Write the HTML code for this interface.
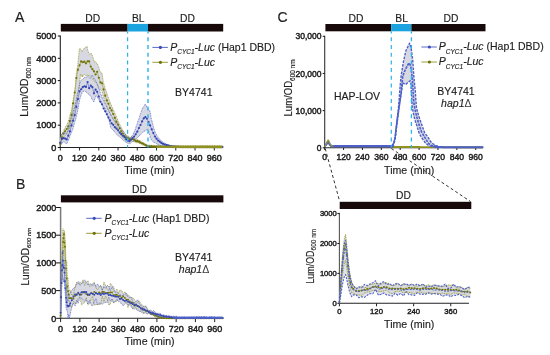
<!DOCTYPE html>
<html><head><meta charset="utf-8"><style>
html,body{margin:0;padding:0;background:#fff;}
body{width:550px;height:355px;overflow:hidden;}
svg{display:block;font-family:"Liberation Sans", sans-serif;filter:blur(0.35px);}
</style></head><body>
<svg width="550" height="355" viewBox="0 0 550 355">
<rect width="550" height="355" fill="#fff"/>
<text x="15.0" y="22" font-size="14" text-anchor="start" stroke="#1e1e1e" stroke-width="0.15" fill="#1e1e1e" >A</text>
<rect x="60.8" y="23.9" width="66.80" height="7.6" fill="#170909"/>
<rect x="127.6" y="23.9" width="20.40" height="7.6" fill="#1aa3de"/>
<rect x="148.0" y="23.9" width="75.20" height="7.6" fill="#170909"/>
<text x="92.8" y="21.6" font-size="10.3" text-anchor="middle" stroke="#1e1e1e" stroke-width="0.15" fill="#1e1e1e" >DD</text>
<text x="138.3" y="21.6" font-size="10.3" text-anchor="middle" stroke="#1e1e1e" stroke-width="0.15" fill="#1e1e1e" >BL</text>
<text x="187.5" y="21.6" font-size="10.3" text-anchor="middle" stroke="#1e1e1e" stroke-width="0.15" fill="#1e1e1e" >DD</text>
<line x1="60.3" y1="35.5" x2="60.3" y2="148" stroke="#222" stroke-width="1.1"/>
<line x1="57.8" y1="147.50" x2="60.3" y2="147.50" stroke="#111" stroke-width="1"/>
<line x1="57.8" y1="125.20" x2="60.3" y2="125.20" stroke="#111" stroke-width="1"/>
<line x1="57.8" y1="102.90" x2="60.3" y2="102.90" stroke="#111" stroke-width="1"/>
<line x1="57.8" y1="80.60" x2="60.3" y2="80.60" stroke="#111" stroke-width="1"/>
<line x1="57.8" y1="58.30" x2="60.3" y2="58.30" stroke="#111" stroke-width="1"/>
<line x1="57.8" y1="36.00" x2="60.3" y2="36.00" stroke="#111" stroke-width="1"/>
<line x1="59.8" y1="147.5" x2="221.5" y2="147.5" stroke="#222" stroke-width="1.1"/>
<line x1="60.30" y1="147.5" x2="60.30" y2="150.5" stroke="#222" stroke-width="1"/>
<line x1="79.55" y1="147.5" x2="79.55" y2="150.5" stroke="#222" stroke-width="1"/>
<line x1="98.80" y1="147.5" x2="98.80" y2="150.5" stroke="#222" stroke-width="1"/>
<line x1="118.04" y1="147.5" x2="118.04" y2="150.5" stroke="#222" stroke-width="1"/>
<line x1="137.29" y1="147.5" x2="137.29" y2="150.5" stroke="#222" stroke-width="1"/>
<line x1="156.54" y1="147.5" x2="156.54" y2="150.5" stroke="#222" stroke-width="1"/>
<line x1="175.79" y1="147.5" x2="175.79" y2="150.5" stroke="#222" stroke-width="1"/>
<line x1="195.04" y1="147.5" x2="195.04" y2="150.5" stroke="#222" stroke-width="1"/>
<line x1="214.28" y1="147.5" x2="214.28" y2="150.5" stroke="#222" stroke-width="1"/>
<polygon points="60.30,139.45 61.90,134.23 62.39,133.23 63.51,130.72 65.11,127.63 65.27,127.26 66.72,124.82 68.32,121.71 69.92,115.39 71.21,111.03 71.53,109.91 72.65,103.47 73.13,100.55 73.93,96.30 74.74,90.67 75.38,86.20 75.70,82.20 76.34,73.69 77.14,68.89 77.78,64.78 77.94,63.06 78.26,59.83 79.23,50.05 79.55,48.70 79.87,49.59 80.35,48.78 80.51,48.96 81.15,49.87 82.27,51.52 82.44,50.87 82.76,50.32 84.36,48.10 85.96,47.00 87.25,46.44 87.57,49.51 87.89,50.08 88.37,52.22 89.17,54.02 89.81,54.31 90.78,53.46 90.94,53.41 91.26,53.03 92.38,55.86 92.86,57.37 93.18,57.97 93.98,60.79 94.14,61.82 95.59,62.06 95.75,61.74 96.39,63.26 97.19,63.62 98.31,66.18 98.80,66.89 98.96,67.89 99.76,70.68 100.40,72.06 102.00,73.04 103.45,83.12 103.61,83.04 104.89,87.45 105.21,88.16 106.82,92.99 107.78,96.35 108.42,97.86 110.02,102.01 111.63,105.97 112.27,107.36 113.23,109.57 114.84,113.19 115.16,114.15 116.44,117.03 116.60,117.40 118.04,120.75 119.65,124.28 121.09,127.20 121.25,127.59 122.86,130.24 124.46,132.65 125.42,134.19 126.06,134.50 127.67,135.80 127.83,135.84 129.27,136.87 129.75,137.35 130.88,137.08 132.48,136.94 132.64,137.00 134.08,137.94 135.69,139.05 137.29,139.49 137.45,139.50 138.90,140.32 140.50,141.00 142.10,141.88 143.71,142.77 145.31,143.75 146.92,144.67 147.56,145.01 148.52,145.17 150.12,145.22 151.73,145.34 153.33,145.50 154.94,145.61 156.54,145.67 158.14,145.74 159.75,145.74 161.35,145.66 162.96,145.73 164.56,145.68 166.16,145.73 167.77,145.76 169.37,145.69 170.98,145.73 172.58,145.70 174.18,145.77 175.79,145.65 177.39,145.70 179.00,145.77 180.60,145.75 182.20,145.66 183.81,145.76 185.41,145.74 187.02,145.76 188.62,145.69 190.22,145.65 191.83,145.71 193.43,145.77 195.04,145.74 196.64,145.78 198.24,145.74 199.85,145.69 201.45,145.69 203.06,145.66 204.66,145.71 206.26,145.68 207.87,145.72 209.47,145.67 211.08,145.78 212.68,145.66 214.28,145.73 215.89,145.66 217.49,145.73 219.10,145.78 220.70,145.79 222.30,145.77 222.30,147.05 220.70,147.06 219.10,147.07 217.49,147.06 215.89,147.06 214.28,147.07 212.68,147.07 211.08,147.07 209.47,147.08 207.87,147.07 206.26,147.08 204.66,147.09 203.06,147.09 201.45,147.10 199.85,147.10 198.24,147.11 196.64,147.11 195.04,147.09 193.43,147.09 191.83,147.09 190.22,147.10 188.62,147.11 187.02,147.12 185.41,147.13 183.81,147.11 182.20,147.13 180.60,147.14 179.00,147.12 177.39,147.12 175.79,147.15 174.18,147.16 172.58,147.12 170.98,147.16 169.37,147.15 167.77,147.15 166.16,147.13 164.56,147.14 162.96,147.15 161.35,147.18 159.75,147.17 158.14,147.15 156.54,147.18 154.94,147.15 153.33,147.16 151.73,147.13 150.12,147.11 148.52,147.08 147.56,147.10 146.92,146.82 145.31,146.04 143.71,145.27 142.10,144.65 140.50,143.96 138.90,143.13 137.45,142.56 137.29,142.62 135.69,142.69 134.08,141.56 132.64,140.77 132.48,140.84 130.88,141.40 129.75,141.82 129.27,141.37 127.83,140.10 127.67,140.04 126.06,140.18 125.42,140.27 124.46,139.20 122.86,137.40 121.25,135.47 121.09,135.29 119.65,132.50 118.04,129.36 116.60,126.09 116.44,126.06 115.16,122.99 114.84,122.08 113.23,119.48 112.27,117.30 111.63,115.91 110.02,113.19 108.42,109.97 107.78,108.73 106.82,106.01 105.21,102.17 104.89,102.08 103.61,97.34 103.45,96.88 102.00,91.35 100.40,89.39 99.76,88.28 98.96,87.18 98.80,86.66 98.31,86.78 97.19,84.87 96.39,83.57 95.75,82.93 95.59,82.61 94.14,80.25 93.98,80.56 93.18,79.80 92.86,78.97 92.38,78.33 91.26,77.64 90.94,77.64 90.78,76.56 89.81,75.35 89.17,74.98 88.37,75.98 87.89,75.13 87.57,74.70 87.25,75.65 85.96,75.62 84.36,74.37 82.76,76.69 82.44,75.30 82.27,76.89 81.15,75.05 80.51,73.96 80.35,75.83 79.87,80.93 79.55,84.95 79.23,88.26 78.26,91.69 77.94,95.20 77.78,95.73 77.14,98.11 76.34,102.34 75.70,104.03 75.38,107.40 74.74,108.74 73.93,112.43 73.13,116.40 72.65,119.03 71.53,122.78 71.21,124.02 69.92,127.04 68.32,130.73 66.72,133.14 65.27,135.50 65.11,135.42 63.51,137.12 62.39,138.45 61.90,140.22 60.30,146.36" fill="#d7d8e2" fill-opacity="1" stroke="none"/>
<polygon points="60.30,138.09 61.90,133.77 63.51,133.24 63.83,133.21 65.11,133.11 66.72,134.08 68.32,129.86 69.60,126.76 69.92,124.90 71.53,118.42 72.65,113.82 73.13,111.92 74.74,106.66 75.54,102.65 76.34,99.66 77.78,92.76 77.94,92.18 79.55,83.85 79.71,83.12 81.15,80.57 82.44,79.14 82.76,79.08 84.36,77.60 85.00,78.01 85.64,76.95 85.96,77.45 87.57,76.33 87.89,76.20 88.69,77.34 89.17,76.74 89.97,78.34 90.78,77.08 91.58,75.82 92.22,76.28 92.38,75.34 93.82,77.22 93.98,78.98 95.59,79.91 95.75,80.84 96.07,81.54 97.19,83.77 98.80,89.01 98.96,88.39 100.40,92.95 101.84,96.35 102.00,97.02 103.61,100.43 104.89,103.54 105.21,104.27 106.33,106.13 106.82,106.85 108.42,110.06 110.02,113.37 110.67,114.72 111.63,117.03 113.23,119.07 114.84,120.80 116.44,123.27 116.60,123.31 118.04,125.37 119.65,127.10 121.25,129.13 122.54,130.53 122.86,131.26 124.46,133.05 126.06,135.45 126.87,136.73 127.67,137.43 129.27,138.03 129.75,138.17 130.88,136.79 132.48,135.39 132.64,135.18 134.08,131.88 134.24,132.18 135.05,129.86 135.69,128.09 135.85,127.41 137.29,123.58 137.45,123.20 138.09,120.41 138.90,118.98 140.50,113.64 142.10,109.11 142.91,107.20 143.71,106.68 145.31,104.02 146.92,107.14 147.56,108.25 147.72,108.41 148.52,110.49 149.16,110.78 149.96,110.87 150.12,111.76 150.77,116.17 151.57,120.21 151.73,120.02 153.17,125.67 153.33,126.21 153.97,128.74 154.94,131.57 155.58,132.79 156.54,134.98 157.82,136.80 157.98,137.43 158.14,137.57 159.75,139.25 161.35,141.13 162.64,141.89 162.96,142.08 164.56,142.99 166.16,143.89 167.29,144.38 167.77,144.46 169.37,145.05 170.98,145.59 172.10,145.92 172.58,145.99 174.18,146.12 175.79,146.26 177.39,146.32 179.00,146.46 180.60,146.59 182.20,146.60 183.81,146.61 185.41,146.58 187.02,146.64 188.62,146.58 190.22,146.61 191.83,146.63 193.43,146.63 195.04,146.62 196.64,146.59 198.24,146.62 199.85,146.61 201.45,146.60 203.06,146.63 204.66,146.61 206.26,146.63 207.87,146.62 209.47,146.63 211.08,146.61 212.68,146.61 214.28,146.59 215.89,146.61 217.49,146.58 219.10,146.59 220.70,146.61 222.30,146.63 222.30,147.40 220.70,147.37 219.10,147.41 217.49,147.38 215.89,147.40 214.28,147.39 212.68,147.41 211.08,147.39 209.47,147.41 207.87,147.40 206.26,147.38 204.66,147.38 203.06,147.36 201.45,147.38 199.85,147.41 198.24,147.40 196.64,147.41 195.04,147.37 193.43,147.39 191.83,147.38 190.22,147.40 188.62,147.39 187.02,147.40 185.41,147.37 183.81,147.40 182.20,147.39 180.60,147.40 179.00,147.34 177.39,147.34 175.79,147.33 174.18,147.30 172.58,147.27 172.10,147.26 170.98,147.19 169.37,146.97 167.77,146.95 167.29,146.79 166.16,146.78 164.56,146.31 162.96,146.21 162.64,145.97 161.35,145.77 159.75,145.37 158.14,144.88 157.98,144.83 157.82,144.29 156.54,143.52 155.58,142.94 154.94,142.64 153.97,142.61 153.33,141.81 153.17,141.76 151.73,140.40 151.57,140.09 150.77,138.54 150.12,136.85 149.96,135.59 149.16,133.59 148.52,131.33 147.72,129.78 147.56,128.73 146.92,129.83 145.31,130.92 143.71,131.25 142.91,132.51 142.10,132.83 140.50,134.72 138.90,135.87 138.09,136.99 137.45,137.86 137.29,137.77 135.85,139.10 135.69,139.47 135.05,139.78 134.24,140.51 134.08,140.87 132.64,141.44 132.48,141.60 130.88,142.81 129.75,143.92 129.27,143.79 127.67,143.20 126.87,143.21 126.06,142.13 124.46,141.24 122.86,139.93 122.54,139.69 121.25,138.10 119.65,137.07 118.04,135.70 116.60,134.00 116.44,134.28 114.84,132.15 113.23,130.16 111.63,128.72 110.67,127.50 110.02,124.80 108.42,117.38 106.82,113.26 106.33,111.92 105.21,109.06 104.89,108.08 103.61,106.44 102.00,104.47 101.84,104.32 100.40,102.26 98.96,100.27 98.80,100.02 97.19,96.99 96.07,95.47 95.75,96.43 95.59,96.74 93.98,101.49 93.82,102.05 92.38,99.74 92.22,98.74 91.58,98.51 90.78,96.36 89.97,95.33 89.17,94.77 88.69,94.39 87.89,93.03 87.57,93.22 85.96,91.93 85.64,91.49 85.00,91.25 84.36,91.12 82.76,91.38 82.44,91.73 81.15,94.88 79.71,99.40 79.55,100.61 77.94,109.45 77.78,110.40 76.34,116.38 75.54,120.20 74.74,121.87 73.13,128.28 72.65,129.48 71.53,132.50 69.92,136.25 69.60,137.56 68.32,140.50 66.72,143.79 65.11,142.93 63.83,141.80 63.51,142.25 61.90,143.04 60.30,145.78" fill="#d7d8e2" fill-opacity="1" stroke="none"/>
<polyline points="60.30,139.45 61.90,134.23 62.39,133.23 63.51,130.72 65.11,127.63 65.27,127.26 66.72,124.82 68.32,121.71 69.92,115.39 71.21,111.03 71.53,109.91 72.65,103.47 73.13,100.55 73.93,96.30 74.74,90.67 75.38,86.20 75.70,82.20 76.34,73.69 77.14,68.89 77.78,64.78 77.94,63.06 78.26,59.83 79.23,50.05 79.55,48.70 79.87,49.59 80.35,48.78 80.51,48.96 81.15,49.87 82.27,51.52 82.44,50.87 82.76,50.32 84.36,48.10 85.96,47.00 87.25,46.44 87.57,49.51 87.89,50.08 88.37,52.22 89.17,54.02 89.81,54.31 90.78,53.46 90.94,53.41 91.26,53.03 92.38,55.86 92.86,57.37 93.18,57.97 93.98,60.79 94.14,61.82 95.59,62.06 95.75,61.74 96.39,63.26 97.19,63.62 98.31,66.18 98.80,66.89 98.96,67.89 99.76,70.68 100.40,72.06 102.00,73.04 103.45,83.12 103.61,83.04 104.89,87.45 105.21,88.16 106.82,92.99 107.78,96.35 108.42,97.86 110.02,102.01 111.63,105.97 112.27,107.36 113.23,109.57 114.84,113.19 115.16,114.15 116.44,117.03 116.60,117.40 118.04,120.75 119.65,124.28 121.09,127.20 121.25,127.59 122.86,130.24 124.46,132.65 125.42,134.19 126.06,134.50 127.67,135.80 127.83,135.84 129.27,136.87 129.75,137.35 130.88,137.08 132.48,136.94 132.64,137.00 134.08,137.94 135.69,139.05 137.29,139.49 137.45,139.50 138.90,140.32 140.50,141.00 142.10,141.88 143.71,142.77 145.31,143.75 146.92,144.67 147.56,145.01 148.52,145.17 150.12,145.22 151.73,145.34 153.33,145.50 154.94,145.61 156.54,145.67 158.14,145.74 159.75,145.74 161.35,145.66 162.96,145.73 164.56,145.68 166.16,145.73 167.77,145.76 169.37,145.69 170.98,145.73 172.58,145.70 174.18,145.77 175.79,145.65 177.39,145.70 179.00,145.77 180.60,145.75 182.20,145.66 183.81,145.76 185.41,145.74 187.02,145.76 188.62,145.69 190.22,145.65 191.83,145.71 193.43,145.77 195.04,145.74 196.64,145.78 198.24,145.74 199.85,145.69 201.45,145.69 203.06,145.66 204.66,145.71 206.26,145.68 207.87,145.72 209.47,145.67 211.08,145.78 212.68,145.66 214.28,145.73 215.89,145.66 217.49,145.73 219.10,145.78 220.70,145.79 222.30,145.77" fill="none" stroke="#8f9120" stroke-width="0.8" stroke-dasharray="0.9 0.8" stroke-opacity="1" stroke-linejoin="round"/>
<polyline points="60.30,146.36 61.90,140.22 62.39,138.45 63.51,137.12 65.11,135.42 65.27,135.50 66.72,133.14 68.32,130.73 69.92,127.04 71.21,124.02 71.53,122.78 72.65,119.03 73.13,116.40 73.93,112.43 74.74,108.74 75.38,107.40 75.70,104.03 76.34,102.34 77.14,98.11 77.78,95.73 77.94,95.20 78.26,91.69 79.23,88.26 79.55,84.95 79.87,80.93 80.35,75.83 80.51,73.96 81.15,75.05 82.27,76.89 82.44,75.30 82.76,76.69 84.36,74.37 85.96,75.62 87.25,75.65 87.57,74.70 87.89,75.13 88.37,75.98 89.17,74.98 89.81,75.35 90.78,76.56 90.94,77.64 91.26,77.64 92.38,78.33 92.86,78.97 93.18,79.80 93.98,80.56 94.14,80.25 95.59,82.61 95.75,82.93 96.39,83.57 97.19,84.87 98.31,86.78 98.80,86.66 98.96,87.18 99.76,88.28 100.40,89.39 102.00,91.35 103.45,96.88 103.61,97.34 104.89,102.08 105.21,102.17 106.82,106.01 107.78,108.73 108.42,109.97 110.02,113.19 111.63,115.91 112.27,117.30 113.23,119.48 114.84,122.08 115.16,122.99 116.44,126.06 116.60,126.09 118.04,129.36 119.65,132.50 121.09,135.29 121.25,135.47 122.86,137.40 124.46,139.20 125.42,140.27 126.06,140.18 127.67,140.04 127.83,140.10 129.27,141.37 129.75,141.82 130.88,141.40 132.48,140.84 132.64,140.77 134.08,141.56 135.69,142.69 137.29,142.62 137.45,142.56 138.90,143.13 140.50,143.96 142.10,144.65 143.71,145.27 145.31,146.04 146.92,146.82 147.56,147.10 148.52,147.08 150.12,147.11 151.73,147.13 153.33,147.16 154.94,147.15 156.54,147.18 158.14,147.15 159.75,147.17 161.35,147.18 162.96,147.15 164.56,147.14 166.16,147.13 167.77,147.15 169.37,147.15 170.98,147.16 172.58,147.12 174.18,147.16 175.79,147.15 177.39,147.12 179.00,147.12 180.60,147.14 182.20,147.13 183.81,147.11 185.41,147.13 187.02,147.12 188.62,147.11 190.22,147.10 191.83,147.09 193.43,147.09 195.04,147.09 196.64,147.11 198.24,147.11 199.85,147.10 201.45,147.10 203.06,147.09 204.66,147.09 206.26,147.08 207.87,147.07 209.47,147.08 211.08,147.07 212.68,147.07 214.28,147.07 215.89,147.06 217.49,147.06 219.10,147.07 220.70,147.06 222.30,147.05" fill="none" stroke="#8f9120" stroke-width="0.8" stroke-dasharray="0.9 0.8" stroke-opacity="1" stroke-linejoin="round"/>
<polyline points="60.30,143.97 61.90,137.40 63.51,133.56 65.11,131.25 66.72,128.99 68.32,126.40 69.92,121.05 71.53,114.95 73.13,103.32 74.74,92.48 76.34,78.12 77.94,69.83 79.55,65.35 81.15,61.42 82.76,62.24 84.36,61.65 85.96,63.30 87.57,61.36 89.17,61.44 90.78,66.53 92.38,69.17 93.98,71.34 95.59,74.48 97.19,71.74 98.80,77.75 100.40,82.43 102.00,83.23 103.61,89.42 105.21,95.68 106.82,100.39 108.42,103.74 110.02,108.02 111.63,110.39 113.23,114.01 114.84,117.78 116.44,121.69 118.04,124.57 119.65,128.31 121.25,131.42 122.86,133.62 124.46,135.95 126.06,137.46 127.67,137.83 129.27,139.10 130.88,139.32 132.48,138.91 134.08,139.66 135.69,140.93 137.29,141.13 138.90,141.70 140.50,142.54 142.10,143.26 143.71,144.12 145.31,144.98 146.92,145.79 148.52,146.24 150.12,146.33 151.73,146.43 153.33,146.52 154.94,146.63 156.54,146.72 158.14,146.72 159.75,146.74 161.35,146.73 162.96,146.73 164.56,146.76 166.16,146.77 167.77,146.77 169.37,146.76 170.98,146.77 172.58,146.78 174.18,146.78 175.79,146.79 177.39,146.79 179.00,146.81 180.60,146.80 182.20,146.80 183.81,146.80 185.41,146.81 187.02,146.81 188.62,146.84 190.22,146.84 191.83,146.83 193.43,146.84 195.04,146.85 196.64,146.84 198.24,146.86 199.85,146.86 201.45,146.88 203.06,146.88 204.66,146.88 206.26,146.90 207.87,146.90 209.47,146.89 211.08,146.91 212.68,146.92 214.28,146.93 215.89,146.93 217.49,146.92 219.10,146.93 220.70,146.94 222.30,146.95" fill="none" stroke="#a8aa48" stroke-width="0.8" stroke-dasharray="none" stroke-opacity="1" stroke-linejoin="round"/>
<g fill="#707208"><circle cx="60.30" cy="143.97" r="1.1"/><circle cx="61.90" cy="137.40" r="1.1"/><circle cx="63.51" cy="133.56" r="1.1"/><circle cx="65.11" cy="131.25" r="1.1"/><circle cx="66.72" cy="128.99" r="1.1"/><circle cx="68.32" cy="126.40" r="1.1"/><circle cx="69.92" cy="121.05" r="1.1"/><circle cx="71.53" cy="114.95" r="1.1"/><circle cx="73.13" cy="103.32" r="1.1"/><circle cx="74.74" cy="92.48" r="1.1"/><circle cx="76.34" cy="78.12" r="1.1"/><circle cx="77.94" cy="69.83" r="1.1"/><circle cx="79.55" cy="65.35" r="1.1"/><circle cx="81.15" cy="61.42" r="1.1"/><circle cx="82.76" cy="62.24" r="1.1"/><circle cx="84.36" cy="61.65" r="1.1"/><circle cx="85.96" cy="63.30" r="1.1"/><circle cx="87.57" cy="61.36" r="1.1"/><circle cx="89.17" cy="61.44" r="1.1"/><circle cx="90.78" cy="66.53" r="1.1"/><circle cx="92.38" cy="69.17" r="1.1"/><circle cx="93.98" cy="71.34" r="1.1"/><circle cx="95.59" cy="74.48" r="1.1"/><circle cx="97.19" cy="71.74" r="1.1"/><circle cx="98.80" cy="77.75" r="1.1"/><circle cx="100.40" cy="82.43" r="1.1"/><circle cx="102.00" cy="83.23" r="1.1"/><circle cx="103.61" cy="89.42" r="1.1"/><circle cx="105.21" cy="95.68" r="1.1"/><circle cx="106.82" cy="100.39" r="1.1"/><circle cx="108.42" cy="103.74" r="1.1"/><circle cx="110.02" cy="108.02" r="1.1"/><circle cx="111.63" cy="110.39" r="1.1"/><circle cx="113.23" cy="114.01" r="1.1"/><circle cx="114.84" cy="117.78" r="1.1"/><circle cx="116.44" cy="121.69" r="1.1"/><circle cx="118.04" cy="124.57" r="1.1"/><circle cx="119.65" cy="128.31" r="1.1"/><circle cx="121.25" cy="131.42" r="1.1"/><circle cx="122.86" cy="133.62" r="1.1"/><circle cx="124.46" cy="135.95" r="1.1"/><circle cx="126.06" cy="137.46" r="1.1"/><circle cx="127.67" cy="137.83" r="1.1"/><circle cx="129.27" cy="139.10" r="1.1"/><circle cx="130.88" cy="139.32" r="1.1"/><circle cx="132.48" cy="138.91" r="1.1"/><circle cx="134.08" cy="139.66" r="1.1"/><circle cx="135.69" cy="140.93" r="1.1"/><circle cx="137.29" cy="141.13" r="1.1"/><circle cx="138.90" cy="141.70" r="1.1"/><circle cx="140.50" cy="142.54" r="1.1"/><circle cx="142.10" cy="143.26" r="1.1"/><circle cx="143.71" cy="144.12" r="1.1"/><circle cx="145.31" cy="144.98" r="1.1"/><circle cx="146.92" cy="145.79" r="1.1"/><circle cx="148.52" cy="146.24" r="1.1"/><circle cx="150.12" cy="146.33" r="1.1"/><circle cx="151.73" cy="146.43" r="1.1"/><circle cx="153.33" cy="146.52" r="1.1"/><circle cx="154.94" cy="146.63" r="1.1"/><circle cx="156.54" cy="146.72" r="1.1"/><circle cx="158.14" cy="146.72" r="1.1"/><circle cx="159.75" cy="146.74" r="1.1"/><circle cx="161.35" cy="146.73" r="1.1"/><circle cx="162.96" cy="146.73" r="1.1"/><circle cx="164.56" cy="146.76" r="1.1"/><circle cx="166.16" cy="146.77" r="1.1"/><circle cx="167.77" cy="146.77" r="1.1"/><circle cx="169.37" cy="146.76" r="1.1"/><circle cx="170.98" cy="146.77" r="1.1"/><circle cx="172.58" cy="146.78" r="1.1"/><circle cx="174.18" cy="146.78" r="1.1"/><circle cx="175.79" cy="146.79" r="1.1"/><circle cx="177.39" cy="146.79" r="1.1"/><circle cx="179.00" cy="146.81" r="1.1"/><circle cx="180.60" cy="146.80" r="1.1"/><circle cx="182.20" cy="146.80" r="1.1"/><circle cx="183.81" cy="146.80" r="1.1"/><circle cx="185.41" cy="146.81" r="1.1"/><circle cx="187.02" cy="146.81" r="1.1"/><circle cx="188.62" cy="146.84" r="1.1"/><circle cx="190.22" cy="146.84" r="1.1"/><circle cx="191.83" cy="146.83" r="1.1"/><circle cx="193.43" cy="146.84" r="1.1"/><circle cx="195.04" cy="146.85" r="1.1"/><circle cx="196.64" cy="146.84" r="1.1"/><circle cx="198.24" cy="146.86" r="1.1"/><circle cx="199.85" cy="146.86" r="1.1"/><circle cx="201.45" cy="146.88" r="1.1"/><circle cx="203.06" cy="146.88" r="1.1"/><circle cx="204.66" cy="146.88" r="1.1"/><circle cx="206.26" cy="146.90" r="1.1"/><circle cx="207.87" cy="146.90" r="1.1"/><circle cx="209.47" cy="146.89" r="1.1"/><circle cx="211.08" cy="146.91" r="1.1"/><circle cx="212.68" cy="146.92" r="1.1"/><circle cx="214.28" cy="146.93" r="1.1"/><circle cx="215.89" cy="146.93" r="1.1"/><circle cx="217.49" cy="146.92" r="1.1"/><circle cx="219.10" cy="146.93" r="1.1"/><circle cx="220.70" cy="146.94" r="1.1"/><circle cx="222.30" cy="146.95" r="1.1"/></g>
<polyline points="60.30,138.09 61.90,133.77 63.51,133.24 63.83,133.21 65.11,133.11 66.72,134.08 68.32,129.86 69.60,126.76 69.92,124.90 71.53,118.42 72.65,113.82 73.13,111.92 74.74,106.66 75.54,102.65 76.34,99.66 77.78,92.76 77.94,92.18 79.55,83.85 79.71,83.12 81.15,80.57 82.44,79.14 82.76,79.08 84.36,77.60 85.00,78.01 85.64,76.95 85.96,77.45 87.57,76.33 87.89,76.20 88.69,77.34 89.17,76.74 89.97,78.34 90.78,77.08 91.58,75.82 92.22,76.28 92.38,75.34 93.82,77.22 93.98,78.98 95.59,79.91 95.75,80.84 96.07,81.54 97.19,83.77 98.80,89.01 98.96,88.39 100.40,92.95 101.84,96.35 102.00,97.02 103.61,100.43 104.89,103.54 105.21,104.27 106.33,106.13 106.82,106.85 108.42,110.06 110.02,113.37 110.67,114.72 111.63,117.03 113.23,119.07 114.84,120.80 116.44,123.27 116.60,123.31 118.04,125.37 119.65,127.10 121.25,129.13 122.54,130.53 122.86,131.26 124.46,133.05 126.06,135.45 126.87,136.73 127.67,137.43 129.27,138.03 129.75,138.17 130.88,136.79 132.48,135.39 132.64,135.18 134.08,131.88 134.24,132.18 135.05,129.86 135.69,128.09 135.85,127.41 137.29,123.58 137.45,123.20 138.09,120.41 138.90,118.98 140.50,113.64 142.10,109.11 142.91,107.20 143.71,106.68 145.31,104.02 146.92,107.14 147.56,108.25 147.72,108.41 148.52,110.49 149.16,110.78 149.96,110.87 150.12,111.76 150.77,116.17 151.57,120.21 151.73,120.02 153.17,125.67 153.33,126.21 153.97,128.74 154.94,131.57 155.58,132.79 156.54,134.98 157.82,136.80 157.98,137.43 158.14,137.57 159.75,139.25 161.35,141.13 162.64,141.89 162.96,142.08 164.56,142.99 166.16,143.89 167.29,144.38 167.77,144.46 169.37,145.05 170.98,145.59 172.10,145.92 172.58,145.99 174.18,146.12 175.79,146.26 177.39,146.32 179.00,146.46 180.60,146.59 182.20,146.60 183.81,146.61 185.41,146.58 187.02,146.64 188.62,146.58 190.22,146.61 191.83,146.63 193.43,146.63 195.04,146.62 196.64,146.59 198.24,146.62 199.85,146.61 201.45,146.60 203.06,146.63 204.66,146.61 206.26,146.63 207.87,146.62 209.47,146.63 211.08,146.61 212.68,146.61 214.28,146.59 215.89,146.61 217.49,146.58 219.10,146.59 220.70,146.61 222.30,146.63" fill="none" stroke="#4d5fc8" stroke-width="0.8" stroke-dasharray="0.9 0.8" stroke-opacity="1" stroke-linejoin="round"/>
<polyline points="60.30,145.78 61.90,143.04 63.51,142.25 63.83,141.80 65.11,142.93 66.72,143.79 68.32,140.50 69.60,137.56 69.92,136.25 71.53,132.50 72.65,129.48 73.13,128.28 74.74,121.87 75.54,120.20 76.34,116.38 77.78,110.40 77.94,109.45 79.55,100.61 79.71,99.40 81.15,94.88 82.44,91.73 82.76,91.38 84.36,91.12 85.00,91.25 85.64,91.49 85.96,91.93 87.57,93.22 87.89,93.03 88.69,94.39 89.17,94.77 89.97,95.33 90.78,96.36 91.58,98.51 92.22,98.74 92.38,99.74 93.82,102.05 93.98,101.49 95.59,96.74 95.75,96.43 96.07,95.47 97.19,96.99 98.80,100.02 98.96,100.27 100.40,102.26 101.84,104.32 102.00,104.47 103.61,106.44 104.89,108.08 105.21,109.06 106.33,111.92 106.82,113.26 108.42,117.38 110.02,124.80 110.67,127.50 111.63,128.72 113.23,130.16 114.84,132.15 116.44,134.28 116.60,134.00 118.04,135.70 119.65,137.07 121.25,138.10 122.54,139.69 122.86,139.93 124.46,141.24 126.06,142.13 126.87,143.21 127.67,143.20 129.27,143.79 129.75,143.92 130.88,142.81 132.48,141.60 132.64,141.44 134.08,140.87 134.24,140.51 135.05,139.78 135.69,139.47 135.85,139.10 137.29,137.77 137.45,137.86 138.09,136.99 138.90,135.87 140.50,134.72 142.10,132.83 142.91,132.51 143.71,131.25 145.31,130.92 146.92,129.83 147.56,128.73 147.72,129.78 148.52,131.33 149.16,133.59 149.96,135.59 150.12,136.85 150.77,138.54 151.57,140.09 151.73,140.40 153.17,141.76 153.33,141.81 153.97,142.61 154.94,142.64 155.58,142.94 156.54,143.52 157.82,144.29 157.98,144.83 158.14,144.88 159.75,145.37 161.35,145.77 162.64,145.97 162.96,146.21 164.56,146.31 166.16,146.78 167.29,146.79 167.77,146.95 169.37,146.97 170.98,147.19 172.10,147.26 172.58,147.27 174.18,147.30 175.79,147.33 177.39,147.34 179.00,147.34 180.60,147.40 182.20,147.39 183.81,147.40 185.41,147.37 187.02,147.40 188.62,147.39 190.22,147.40 191.83,147.38 193.43,147.39 195.04,147.37 196.64,147.41 198.24,147.40 199.85,147.41 201.45,147.38 203.06,147.36 204.66,147.38 206.26,147.38 207.87,147.40 209.47,147.41 211.08,147.39 212.68,147.41 214.28,147.39 215.89,147.40 217.49,147.38 219.10,147.41 220.70,147.37 222.30,147.40" fill="none" stroke="#4d5fc8" stroke-width="0.8" stroke-dasharray="0.9 0.8" stroke-opacity="1" stroke-linejoin="round"/>
<polyline points="60.30,142.66 61.90,139.01 63.51,138.16 65.11,138.56 66.72,139.42 68.32,135.65 69.92,131.46 71.53,125.41 73.13,120.69 74.74,115.11 76.34,106.94 77.94,99.07 79.55,91.34 81.15,89.27 82.76,87.19 84.36,86.24 85.96,86.93 87.57,82.11 89.17,88.14 90.78,85.64 92.38,87.20 93.98,93.33 95.59,89.56 97.19,91.81 98.80,96.52 100.40,101.77 102.00,104.36 103.61,108.49 105.21,111.35 106.82,114.33 108.42,117.60 110.02,120.33 111.63,123.36 113.23,124.83 114.84,127.15 116.44,128.62 118.04,130.36 119.65,132.61 121.25,134.18 122.86,135.77 124.46,137.18 126.06,139.26 127.67,140.77 129.27,141.21 130.88,139.80 132.48,138.08 134.08,136.48 135.69,134.30 137.29,131.70 138.90,128.10 140.50,125.00 142.10,121.46 143.71,118.38 145.31,117.03 146.92,118.62 148.52,122.06 150.12,125.43 151.73,129.32 153.33,133.12 154.94,136.51 156.54,138.72 158.14,140.60 159.75,141.72 161.35,142.95 162.96,143.81 164.56,144.50 166.16,144.98 167.77,145.43 169.37,145.96 170.98,146.37 172.58,146.50 174.18,146.62 175.79,146.73 177.39,146.82 179.00,146.93 180.60,147.06 182.20,147.05 183.81,147.06 185.41,147.05 187.02,147.06 188.62,147.05 190.22,147.04 191.83,147.05 193.43,147.04 195.04,147.06 196.64,147.06 198.24,147.05 199.85,147.06 201.45,147.06 203.06,147.06 204.66,147.05 206.26,147.06 207.87,147.06 209.47,147.05 211.08,147.06 212.68,147.04 214.28,147.05 215.89,147.06 217.49,147.05 219.10,147.05 220.70,147.05 222.30,147.05" fill="none" stroke="#7282d2" stroke-width="0.8" stroke-dasharray="none" stroke-opacity="1" stroke-linejoin="round"/>
<g fill="#3244b4"><circle cx="60.30" cy="142.66" r="1.1"/><circle cx="61.90" cy="139.01" r="1.1"/><circle cx="63.51" cy="138.16" r="1.1"/><circle cx="65.11" cy="138.56" r="1.1"/><circle cx="66.72" cy="139.42" r="1.1"/><circle cx="68.32" cy="135.65" r="1.1"/><circle cx="69.92" cy="131.46" r="1.1"/><circle cx="71.53" cy="125.41" r="1.1"/><circle cx="73.13" cy="120.69" r="1.1"/><circle cx="74.74" cy="115.11" r="1.1"/><circle cx="76.34" cy="106.94" r="1.1"/><circle cx="77.94" cy="99.07" r="1.1"/><circle cx="79.55" cy="91.34" r="1.1"/><circle cx="81.15" cy="89.27" r="1.1"/><circle cx="82.76" cy="87.19" r="1.1"/><circle cx="84.36" cy="86.24" r="1.1"/><circle cx="85.96" cy="86.93" r="1.1"/><circle cx="87.57" cy="82.11" r="1.1"/><circle cx="89.17" cy="88.14" r="1.1"/><circle cx="90.78" cy="85.64" r="1.1"/><circle cx="92.38" cy="87.20" r="1.1"/><circle cx="93.98" cy="93.33" r="1.1"/><circle cx="95.59" cy="89.56" r="1.1"/><circle cx="97.19" cy="91.81" r="1.1"/><circle cx="98.80" cy="96.52" r="1.1"/><circle cx="100.40" cy="101.77" r="1.1"/><circle cx="102.00" cy="104.36" r="1.1"/><circle cx="103.61" cy="108.49" r="1.1"/><circle cx="105.21" cy="111.35" r="1.1"/><circle cx="106.82" cy="114.33" r="1.1"/><circle cx="108.42" cy="117.60" r="1.1"/><circle cx="110.02" cy="120.33" r="1.1"/><circle cx="111.63" cy="123.36" r="1.1"/><circle cx="113.23" cy="124.83" r="1.1"/><circle cx="114.84" cy="127.15" r="1.1"/><circle cx="116.44" cy="128.62" r="1.1"/><circle cx="118.04" cy="130.36" r="1.1"/><circle cx="119.65" cy="132.61" r="1.1"/><circle cx="121.25" cy="134.18" r="1.1"/><circle cx="122.86" cy="135.77" r="1.1"/><circle cx="124.46" cy="137.18" r="1.1"/><circle cx="126.06" cy="139.26" r="1.1"/><circle cx="127.67" cy="140.77" r="1.1"/><circle cx="129.27" cy="141.21" r="1.1"/><circle cx="130.88" cy="139.80" r="1.1"/><circle cx="132.48" cy="138.08" r="1.1"/><circle cx="134.08" cy="136.48" r="1.1"/><circle cx="135.69" cy="134.30" r="1.1"/><circle cx="137.29" cy="131.70" r="1.1"/><circle cx="138.90" cy="128.10" r="1.1"/><circle cx="140.50" cy="125.00" r="1.1"/><circle cx="142.10" cy="121.46" r="1.1"/><circle cx="143.71" cy="118.38" r="1.1"/><circle cx="145.31" cy="117.03" r="1.1"/><circle cx="146.92" cy="118.62" r="1.1"/><circle cx="148.52" cy="122.06" r="1.1"/><circle cx="150.12" cy="125.43" r="1.1"/><circle cx="151.73" cy="129.32" r="1.1"/><circle cx="153.33" cy="133.12" r="1.1"/><circle cx="154.94" cy="136.51" r="1.1"/><circle cx="156.54" cy="138.72" r="1.1"/><circle cx="158.14" cy="140.60" r="1.1"/><circle cx="159.75" cy="141.72" r="1.1"/><circle cx="161.35" cy="142.95" r="1.1"/><circle cx="162.96" cy="143.81" r="1.1"/><circle cx="164.56" cy="144.50" r="1.1"/><circle cx="166.16" cy="144.98" r="1.1"/><circle cx="167.77" cy="145.43" r="1.1"/><circle cx="169.37" cy="145.96" r="1.1"/><circle cx="170.98" cy="146.37" r="1.1"/><circle cx="172.58" cy="146.50" r="1.1"/><circle cx="174.18" cy="146.62" r="1.1"/><circle cx="175.79" cy="146.73" r="1.1"/><circle cx="177.39" cy="146.82" r="1.1"/><circle cx="179.00" cy="146.93" r="1.1"/><circle cx="180.60" cy="147.06" r="1.1"/><circle cx="182.20" cy="147.05" r="1.1"/><circle cx="183.81" cy="147.06" r="1.1"/><circle cx="185.41" cy="147.05" r="1.1"/><circle cx="187.02" cy="147.06" r="1.1"/><circle cx="188.62" cy="147.05" r="1.1"/><circle cx="190.22" cy="147.04" r="1.1"/><circle cx="191.83" cy="147.05" r="1.1"/><circle cx="193.43" cy="147.04" r="1.1"/><circle cx="195.04" cy="147.06" r="1.1"/><circle cx="196.64" cy="147.06" r="1.1"/><circle cx="198.24" cy="147.05" r="1.1"/><circle cx="199.85" cy="147.06" r="1.1"/><circle cx="201.45" cy="147.06" r="1.1"/><circle cx="203.06" cy="147.06" r="1.1"/><circle cx="204.66" cy="147.05" r="1.1"/><circle cx="206.26" cy="147.06" r="1.1"/><circle cx="207.87" cy="147.06" r="1.1"/><circle cx="209.47" cy="147.05" r="1.1"/><circle cx="211.08" cy="147.06" r="1.1"/><circle cx="212.68" cy="147.04" r="1.1"/><circle cx="214.28" cy="147.05" r="1.1"/><circle cx="215.89" cy="147.06" r="1.1"/><circle cx="217.49" cy="147.05" r="1.1"/><circle cx="219.10" cy="147.05" r="1.1"/><circle cx="220.70" cy="147.05" r="1.1"/><circle cx="222.30" cy="147.05" r="1.1"/></g>
<polyline points="156.54,146.83 222.30,146.94" fill="none" stroke="#8f9120" stroke-width="2.4" stroke-dasharray="none" stroke-opacity="1" stroke-linejoin="round"/>
<line x1="127.6" y1="31.5" x2="127.6" y2="147.5" stroke="#2bb3ea" stroke-width="1.2" stroke-dasharray="4 3.7" stroke-dashoffset="1.90"/>
<line x1="148.0" y1="31.5" x2="148.0" y2="147.5" stroke="#2bb3ea" stroke-width="1.4" stroke-dasharray="4 3.7" stroke-dashoffset="1.90"/>
<text x="56.4" y="150.78" font-size="9.1" text-anchor="end" stroke="#1e1e1e" stroke-width="0.45" fill="#1e1e1e" >0</text>
<text x="56.4" y="128.48" font-size="9.1" text-anchor="end" stroke="#1e1e1e" stroke-width="0.45" fill="#1e1e1e" >1000</text>
<text x="56.4" y="106.18" font-size="9.1" text-anchor="end" stroke="#1e1e1e" stroke-width="0.45" fill="#1e1e1e" >2000</text>
<text x="56.4" y="83.88" font-size="9.1" text-anchor="end" stroke="#1e1e1e" stroke-width="0.45" fill="#1e1e1e" >3000</text>
<text x="56.4" y="61.58" font-size="9.1" text-anchor="end" stroke="#1e1e1e" stroke-width="0.45" fill="#1e1e1e" >4000</text>
<text x="56.4" y="39.28" font-size="9.1" text-anchor="end" stroke="#1e1e1e" stroke-width="0.45" fill="#1e1e1e" >5000</text>
<text x="60.30" y="160.6" font-size="9.0" text-anchor="middle" stroke="#1e1e1e" stroke-width="0.45" fill="#1e1e1e" >0</text>
<text x="79.55" y="160.6" font-size="9.0" text-anchor="middle" stroke="#1e1e1e" stroke-width="0.45" fill="#1e1e1e" >120</text>
<text x="98.80" y="160.6" font-size="9.0" text-anchor="middle" stroke="#1e1e1e" stroke-width="0.45" fill="#1e1e1e" >240</text>
<text x="118.04" y="160.6" font-size="9.0" text-anchor="middle" stroke="#1e1e1e" stroke-width="0.45" fill="#1e1e1e" >360</text>
<text x="137.29" y="160.6" font-size="9.0" text-anchor="middle" stroke="#1e1e1e" stroke-width="0.45" fill="#1e1e1e" >480</text>
<text x="156.54" y="160.6" font-size="9.0" text-anchor="middle" stroke="#1e1e1e" stroke-width="0.45" fill="#1e1e1e" >600</text>
<text x="175.79" y="160.6" font-size="9.0" text-anchor="middle" stroke="#1e1e1e" stroke-width="0.45" fill="#1e1e1e" >720</text>
<text x="195.04" y="160.6" font-size="9.0" text-anchor="middle" stroke="#1e1e1e" stroke-width="0.45" fill="#1e1e1e" >840</text>
<text x="214.28" y="160.6" font-size="9.0" text-anchor="middle" stroke="#1e1e1e" stroke-width="0.45" fill="#1e1e1e" >960</text>
<text x="149.4" y="174.2" font-size="10.6" text-anchor="middle" stroke="#1e1e1e" stroke-width="0.15" fill="#1e1e1e" >Time (min)</text>
<text transform="translate(28.4,87.0) scale(1.0,1.0) rotate(-90)" font-size="10.3" fill="#1e1e1e" stroke="#1e1e1e" stroke-width="0.15" text-anchor="middle">Lum/OD<tspan font-size="6.4" dy="2.4">600 nm</tspan></text>
<line x1="152.4" y1="47.4" x2="167.9" y2="47.4" stroke="#5a6ac6" stroke-width="1.0"/>
<circle cx="160.4" cy="47.4" r="1.6" fill="#3a4cbc"/>
<text x="170.2" y="50.8" font-size="10.5" fill="#1e1e1e" stroke="#1e1e1e" stroke-width="0.15"><tspan font-style="italic">P</tspan><tspan font-style="italic" font-size="6.5" dy="3.3">CYC1</tspan><tspan font-style="italic" dy="-3.3">-Luc</tspan> (Hap1 DBD)</text>
<line x1="152.4" y1="62.3" x2="167.9" y2="62.3" stroke="#9c9e3a" stroke-width="1.0"/>
<circle cx="160.4" cy="62.3" r="1.6" fill="#707208"/>
<text x="170.2" y="65.7" font-size="10.5" fill="#1e1e1e" stroke="#1e1e1e" stroke-width="0.15"><tspan font-style="italic">P</tspan><tspan font-style="italic" font-size="6.5" dy="3.3">CYC1</tspan><tspan font-style="italic" dy="-3.3">-Luc</tspan></text>
<text x="193.8" y="95.8" font-size="10.5" text-anchor="middle" stroke="#1e1e1e" stroke-width="0.15" fill="#1e1e1e" >BY4741</text>
<text x="16.0" y="189" font-size="14" text-anchor="start" stroke="#1e1e1e" stroke-width="0.15" fill="#1e1e1e" >B</text>
<rect x="60.9" y="195.3" width="162.50" height="7.1" fill="#170909"/>
<text x="139.5" y="192.8" font-size="10.3" text-anchor="middle" stroke="#1e1e1e" stroke-width="0.15" fill="#1e1e1e" >DD</text>
<line x1="60.6" y1="207.3" x2="60.6" y2="318.8" stroke="#7a7a7a" stroke-width="1.5"/>
<line x1="56.1" y1="318.30" x2="60.6" y2="318.30" stroke="#111" stroke-width="1"/>
<line x1="56.1" y1="290.60" x2="60.6" y2="290.60" stroke="#111" stroke-width="1"/>
<line x1="56.1" y1="262.90" x2="60.6" y2="262.90" stroke="#111" stroke-width="1"/>
<line x1="56.1" y1="235.20" x2="60.6" y2="235.20" stroke="#111" stroke-width="1"/>
<line x1="56.1" y1="207.50" x2="60.6" y2="207.50" stroke="#111" stroke-width="1"/>
<line x1="60.1" y1="318.3" x2="221.8" y2="318.3" stroke="#222" stroke-width="1.1"/>
<line x1="60.60" y1="318.3" x2="60.60" y2="322.1" stroke="#222" stroke-width="1"/>
<line x1="79.86" y1="318.3" x2="79.86" y2="322.1" stroke="#222" stroke-width="1"/>
<line x1="99.12" y1="318.3" x2="99.12" y2="322.1" stroke="#222" stroke-width="1"/>
<line x1="118.38" y1="318.3" x2="118.38" y2="322.1" stroke="#222" stroke-width="1"/>
<line x1="137.64" y1="318.3" x2="137.64" y2="322.1" stroke="#222" stroke-width="1"/>
<line x1="156.90" y1="318.3" x2="156.90" y2="322.1" stroke="#222" stroke-width="1"/>
<line x1="176.16" y1="318.3" x2="176.16" y2="322.1" stroke="#222" stroke-width="1"/>
<line x1="195.42" y1="318.3" x2="195.42" y2="322.1" stroke="#222" stroke-width="1"/>
<line x1="214.68" y1="318.3" x2="214.68" y2="322.1" stroke="#222" stroke-width="1"/>
<polygon points="60.60,314.28 61.08,286.96 61.56,270.36 62.04,256.00 62.53,238.16 63.01,228.78 63.49,235.75 63.97,234.14 64.45,230.68 64.93,236.75 65.42,242.21 66.06,266.00 66.70,261.50 67.34,276.95 67.98,277.79 68.62,287.08 69.43,291.38 70.23,290.12 71.84,295.43 73.44,294.82 75.05,286.95 76.65,282.07 78.25,283.83 79.86,281.74 81.47,283.69 83.07,279.76 84.67,285.62 86.28,282.22 87.89,280.54 89.49,286.28 91.09,286.20 92.70,283.31 94.31,282.22 95.91,287.66 97.52,289.72 99.12,287.45 100.72,285.95 102.33,290.42 103.94,282.04 105.54,285.23 107.15,289.26 108.75,290.62 110.36,283.49 111.96,284.75 113.56,291.32 115.17,291.42 116.78,288.89 118.38,293.04 119.98,289.87 121.59,290.57 123.19,293.27 124.80,291.73 126.41,295.63 128.01,294.38 129.62,296.70 131.22,298.46 132.83,297.91 134.43,299.24 136.03,301.94 137.64,302.55 139.25,300.83 140.85,303.70 142.46,304.92 144.06,307.19 145.66,305.94 147.27,308.43 148.88,311.47 150.48,310.29 152.09,311.32 153.69,313.12 155.30,313.48 156.90,315.06 158.50,314.29 160.11,315.95 161.72,316.07 163.32,316.80 164.93,317.78 166.53,318.10 168.13,317.55 169.74,317.57 171.34,317.91 172.95,317.98 174.56,317.53 176.16,317.97 177.77,317.94 179.37,317.56 180.97,317.58 182.58,317.53 184.19,317.67 185.79,317.85 187.40,317.40 189.00,317.42 190.60,317.80 192.21,318.09 193.81,318.13 195.42,318.13 197.03,318.07 198.63,317.92 200.23,317.81 201.84,317.38 203.44,317.67 205.05,317.65 206.66,317.92 208.26,317.45 209.87,317.79 211.47,317.69 213.07,317.51 214.68,318.04 216.28,317.77 217.89,317.72 219.50,317.50 221.10,317.48 222.70,318.01 222.70,318.30 221.10,318.30 219.50,318.30 217.89,318.30 216.28,318.30 214.68,318.30 213.07,318.30 211.47,318.30 209.87,318.30 208.26,318.30 206.66,318.30 205.05,318.30 203.44,318.30 201.84,318.30 200.23,318.30 198.63,318.30 197.03,318.30 195.42,318.30 193.81,318.30 192.21,318.30 190.60,318.30 189.00,318.30 187.40,318.30 185.79,318.30 184.19,318.30 182.58,318.30 180.97,318.30 179.37,318.30 177.77,318.30 176.16,318.30 174.56,318.30 172.95,318.30 171.34,318.30 169.74,318.30 168.13,318.30 166.53,318.30 164.93,318.30 163.32,318.10 161.72,318.04 160.11,318.28 158.50,317.43 156.90,317.60 155.30,317.62 153.69,315.32 152.09,314.89 150.48,314.33 148.88,313.24 147.27,313.64 145.66,312.01 144.06,313.26 142.46,313.18 140.85,312.10 139.25,310.50 137.64,308.96 136.03,308.08 134.43,306.18 132.83,309.00 131.22,304.78 129.62,303.47 128.01,307.58 126.41,302.07 124.80,302.48 123.19,300.18 121.59,299.71 119.98,298.23 118.38,298.12 116.78,301.45 115.17,301.56 113.56,302.91 111.96,298.93 110.36,304.20 108.75,304.92 107.15,299.11 105.54,295.86 103.94,301.83 102.33,296.12 100.72,304.41 99.12,304.72 97.52,303.77 95.91,304.73 94.31,305.25 92.70,296.17 91.09,298.46 89.49,303.66 87.89,305.11 86.28,297.47 84.67,302.53 83.07,303.98 81.47,304.72 79.86,296.93 78.25,297.92 76.65,303.54 75.05,303.34 73.44,301.30 71.84,307.08 70.23,306.29 69.43,301.06 68.62,298.69 67.98,300.28 67.34,300.08 66.70,292.36 66.06,276.60 65.42,275.59 64.93,257.99 64.45,246.16 63.97,240.23 63.49,248.26 63.01,251.34 62.53,264.68 62.04,273.79 61.56,292.20 61.08,307.67 60.60,317.56" fill="#d7d8e2" fill-opacity="1" stroke="none"/>
<polygon points="60.60,311.22 61.08,285.86 61.56,269.04 62.04,262.11 62.53,250.56 63.01,252.44 63.49,250.22 63.97,259.20 64.45,263.65 64.93,275.45 65.42,284.39 66.06,283.67 66.70,293.42 67.34,299.71 67.98,301.72 68.62,296.53 69.43,294.87 70.23,293.57 71.84,290.30 73.44,288.28 75.05,287.59 76.65,284.34 78.25,281.65 79.86,285.42 81.47,284.25 83.07,281.99 84.67,279.90 86.28,282.38 87.89,285.01 89.49,284.00 91.09,284.09 92.70,285.65 94.31,283.15 95.91,286.65 97.52,283.81 99.12,287.10 100.72,285.19 102.33,290.11 103.94,286.73 105.54,288.21 107.15,285.45 108.75,286.07 110.36,290.73 111.96,287.00 113.56,286.90 115.17,292.72 116.78,292.05 118.38,293.65 119.98,294.22 121.59,296.21 123.19,294.76 124.80,294.43 126.41,293.18 128.01,297.10 129.62,297.79 131.22,296.76 132.83,302.49 134.43,302.64 136.03,301.91 137.64,299.55 139.25,303.96 140.85,305.04 142.46,307.36 144.06,306.45 145.66,306.07 147.27,308.90 148.88,310.78 150.48,309.87 152.09,311.63 153.69,310.48 155.30,312.23 156.90,313.18 158.50,313.48 160.11,313.04 161.72,314.64 163.32,314.76 164.93,315.49 166.53,315.49 168.13,315.73 169.74,315.76 171.34,316.41 172.95,315.93 174.56,316.43 176.16,316.06 177.77,316.98 179.37,317.17 180.97,317.12 182.58,316.94 184.19,316.81 185.79,317.30 187.40,317.12 189.00,317.08 190.60,316.88 192.21,317.06 193.81,316.82 195.42,317.17 197.03,316.48 198.63,316.87 200.23,316.62 201.84,316.83 203.44,316.77 205.05,316.47 206.66,317.03 208.26,317.24 209.87,316.56 211.47,316.55 213.07,316.99 214.68,316.60 216.28,317.31 217.89,316.86 219.50,317.10 221.10,316.82 222.70,317.40 222.70,317.97 221.10,318.09 219.50,317.95 217.89,318.02 216.28,318.02 214.68,318.12 213.07,317.97 211.47,318.07 209.87,317.92 208.26,317.97 206.66,318.11 205.05,317.99 203.44,318.02 201.84,318.08 200.23,318.00 198.63,317.89 197.03,318.13 195.42,318.01 193.81,317.89 192.21,318.10 190.60,318.01 189.00,317.96 187.40,318.03 185.79,318.11 184.19,318.10 182.58,318.07 180.97,318.06 179.37,318.13 177.77,317.83 176.16,317.95 174.56,317.73 172.95,317.58 171.34,317.77 169.74,317.49 168.13,317.14 166.53,317.12 164.93,317.67 163.32,316.82 161.72,317.25 160.11,316.49 158.50,316.79 156.90,316.59 155.30,314.91 153.69,314.77 152.09,314.90 150.48,314.49 148.88,312.83 147.27,314.22 145.66,312.86 144.06,313.30 142.46,311.95 140.85,310.94 139.25,311.46 137.64,310.54 136.03,309.24 134.43,308.81 132.83,308.86 131.22,306.87 129.62,304.62 128.01,305.07 126.41,303.05 124.80,303.99 123.19,305.71 121.59,304.22 119.98,301.60 118.38,301.68 116.78,298.97 115.17,301.74 113.56,302.72 111.96,299.25 110.36,300.84 108.75,297.36 107.15,302.38 105.54,302.43 103.94,302.94 102.33,304.10 100.72,303.49 99.12,302.97 97.52,304.91 95.91,298.43 94.31,301.65 92.70,305.79 91.09,304.98 89.49,300.30 87.89,303.95 86.28,299.78 84.67,301.03 83.07,299.46 81.47,298.27 79.86,297.36 78.25,303.36 76.65,300.13 75.05,305.97 73.44,303.17 71.84,306.69 70.23,314.50 69.43,317.99 68.62,314.42 67.98,318.30 67.34,309.83 66.70,310.43 66.06,308.37 65.42,296.10 64.93,289.59 64.45,284.04 63.97,278.48 63.49,281.97 63.01,280.62 62.53,274.58 62.04,278.73 61.56,289.80 61.08,306.77 60.60,316.30" fill="#d7d8e2" fill-opacity="1" stroke="none"/>
<polyline points="60.60,314.28 61.08,286.96 61.56,270.36 62.04,256.00 62.53,238.16 63.01,228.78 63.49,235.75 63.97,234.14 64.45,230.68 64.93,236.75 65.42,242.21 66.06,266.00 66.70,261.50 67.34,276.95 67.98,277.79 68.62,287.08 69.43,291.38 70.23,290.12 71.84,295.43 73.44,294.82 75.05,286.95 76.65,282.07 78.25,283.83 79.86,281.74 81.47,283.69 83.07,279.76 84.67,285.62 86.28,282.22 87.89,280.54 89.49,286.28 91.09,286.20 92.70,283.31 94.31,282.22 95.91,287.66 97.52,289.72 99.12,287.45 100.72,285.95 102.33,290.42 103.94,282.04 105.54,285.23 107.15,289.26 108.75,290.62 110.36,283.49 111.96,284.75 113.56,291.32 115.17,291.42 116.78,288.89 118.38,293.04 119.98,289.87 121.59,290.57 123.19,293.27 124.80,291.73 126.41,295.63 128.01,294.38 129.62,296.70 131.22,298.46 132.83,297.91 134.43,299.24 136.03,301.94 137.64,302.55 139.25,300.83 140.85,303.70 142.46,304.92 144.06,307.19 145.66,305.94 147.27,308.43 148.88,311.47 150.48,310.29 152.09,311.32 153.69,313.12 155.30,313.48 156.90,315.06 158.50,314.29 160.11,315.95 161.72,316.07 163.32,316.80 164.93,317.78 166.53,318.10 168.13,317.55 169.74,317.57 171.34,317.91 172.95,317.98 174.56,317.53 176.16,317.97 177.77,317.94 179.37,317.56 180.97,317.58 182.58,317.53 184.19,317.67 185.79,317.85 187.40,317.40 189.00,317.42 190.60,317.80 192.21,318.09 193.81,318.13 195.42,318.13 197.03,318.07 198.63,317.92 200.23,317.81 201.84,317.38 203.44,317.67 205.05,317.65 206.66,317.92 208.26,317.45 209.87,317.79 211.47,317.69 213.07,317.51 214.68,318.04 216.28,317.77 217.89,317.72 219.50,317.50 221.10,317.48 222.70,318.01" fill="none" stroke="#8f9120" stroke-width="0.8" stroke-dasharray="0.9 0.8" stroke-opacity="1" stroke-linejoin="round"/>
<polyline points="60.60,317.56 61.08,307.67 61.56,292.20 62.04,273.79 62.53,264.68 63.01,251.34 63.49,248.26 63.97,240.23 64.45,246.16 64.93,257.99 65.42,275.59 66.06,276.60 66.70,292.36 67.34,300.08 67.98,300.28 68.62,298.69 69.43,301.06 70.23,306.29 71.84,307.08 73.44,301.30 75.05,303.34 76.65,303.54 78.25,297.92 79.86,296.93 81.47,304.72 83.07,303.98 84.67,302.53 86.28,297.47 87.89,305.11 89.49,303.66 91.09,298.46 92.70,296.17 94.31,305.25 95.91,304.73 97.52,303.77 99.12,304.72 100.72,304.41 102.33,296.12 103.94,301.83 105.54,295.86 107.15,299.11 108.75,304.92 110.36,304.20 111.96,298.93 113.56,302.91 115.17,301.56 116.78,301.45 118.38,298.12 119.98,298.23 121.59,299.71 123.19,300.18 124.80,302.48 126.41,302.07 128.01,307.58 129.62,303.47 131.22,304.78 132.83,309.00 134.43,306.18 136.03,308.08 137.64,308.96 139.25,310.50 140.85,312.10 142.46,313.18 144.06,313.26 145.66,312.01 147.27,313.64 148.88,313.24 150.48,314.33 152.09,314.89 153.69,315.32 155.30,317.62 156.90,317.60 158.50,317.43 160.11,318.28 161.72,318.04 163.32,318.10 164.93,318.30 166.53,318.30 168.13,318.30 169.74,318.30 171.34,318.30 172.95,318.30 174.56,318.30 176.16,318.30 177.77,318.30 179.37,318.30 180.97,318.30 182.58,318.30 184.19,318.30 185.79,318.30 187.40,318.30 189.00,318.30 190.60,318.30 192.21,318.30 193.81,318.30 195.42,318.30 197.03,318.30 198.63,318.30 200.23,318.30 201.84,318.30 203.44,318.30 205.05,318.30 206.66,318.30 208.26,318.30 209.87,318.30 211.47,318.30 213.07,318.30 214.68,318.30 216.28,318.30 217.89,318.30 219.50,318.30 221.10,318.30 222.70,318.30" fill="none" stroke="#8f9120" stroke-width="0.8" stroke-dasharray="0.9 0.8" stroke-opacity="1" stroke-linejoin="round"/>
<polyline points="60.60,315.43 61.08,296.72 61.56,279.59 62.04,265.83 62.53,253.20 63.01,242.05 63.49,238.26 63.97,234.18 64.45,242.58 64.93,246.81 65.42,260.64 66.06,268.55 66.70,278.45 67.34,286.50 67.98,291.21 68.62,294.52 69.43,298.11 70.23,298.17 71.84,298.20 73.44,298.65 75.05,295.72 76.65,294.51 78.25,293.49 79.86,294.40 81.47,294.59 83.07,291.90 84.67,292.46 86.28,294.08 87.89,294.98 89.49,294.54 91.09,293.11 92.70,293.99 94.31,291.87 95.91,292.83 97.52,293.86 99.12,292.34 100.72,293.38 102.33,291.78 103.94,292.00 105.54,293.33 107.15,292.94 108.75,292.78 110.36,292.46 111.96,292.34 113.56,295.48 115.17,294.87 116.78,294.75 118.38,296.12 119.98,295.90 121.59,297.76 123.19,296.29 124.80,297.74 126.41,299.80 128.01,299.66 129.62,301.51 131.22,302.55 132.83,302.82 134.43,304.52 136.03,305.47 137.64,305.58 139.25,306.67 140.85,308.39 142.46,308.38 144.06,310.12 145.66,310.70 147.27,311.14 148.88,312.31 150.48,313.43 152.09,314.07 153.69,314.75 155.30,315.52 156.90,315.95 158.50,316.73 160.11,317.20 161.72,317.73 163.32,317.94 164.93,318.10 166.53,318.30 168.13,318.30 169.74,318.30 171.34,318.30 172.95,318.30 174.56,318.30 176.16,318.30 177.77,318.30 179.37,318.30 180.97,318.30 182.58,318.30 184.19,318.30 185.79,318.30 187.40,318.30 189.00,318.30 190.60,318.30 192.21,318.30 193.81,318.30 195.42,318.30 197.03,318.30 198.63,318.30 200.23,318.30 201.84,318.30 203.44,318.30 205.05,318.30 206.66,318.30 208.26,318.30 209.87,318.30 211.47,318.30 213.07,318.30 214.68,318.30 216.28,318.30 217.89,318.30 219.50,318.30 221.10,318.30 222.70,318.30" fill="none" stroke="#a8aa48" stroke-width="0.9" stroke-dasharray="none" stroke-opacity="1" stroke-linejoin="round"/>
<g fill="#707208"><circle cx="60.60" cy="315.43" r="0.95"/><circle cx="61.08" cy="296.72" r="0.95"/><circle cx="61.56" cy="279.59" r="0.95"/><circle cx="62.04" cy="265.83" r="0.95"/><circle cx="62.53" cy="253.20" r="0.95"/><circle cx="63.01" cy="242.05" r="0.95"/><circle cx="63.49" cy="238.26" r="0.95"/><circle cx="63.97" cy="234.18" r="0.95"/><circle cx="64.45" cy="242.58" r="0.95"/><circle cx="64.93" cy="246.81" r="0.95"/><circle cx="65.42" cy="260.64" r="0.95"/><circle cx="66.06" cy="268.55" r="0.95"/><circle cx="66.70" cy="278.45" r="0.95"/><circle cx="67.34" cy="286.50" r="0.95"/><circle cx="67.98" cy="291.21" r="0.95"/><circle cx="68.62" cy="294.52" r="0.95"/><circle cx="69.43" cy="298.11" r="0.95"/><circle cx="70.23" cy="298.17" r="0.95"/><circle cx="71.84" cy="298.20" r="0.95"/><circle cx="73.44" cy="298.65" r="0.95"/><circle cx="75.05" cy="295.72" r="0.95"/><circle cx="76.65" cy="294.51" r="0.95"/><circle cx="78.25" cy="293.49" r="0.95"/><circle cx="79.86" cy="294.40" r="0.95"/><circle cx="81.47" cy="294.59" r="0.95"/><circle cx="83.07" cy="291.90" r="0.95"/><circle cx="84.67" cy="292.46" r="0.95"/><circle cx="86.28" cy="294.08" r="0.95"/><circle cx="87.89" cy="294.98" r="0.95"/><circle cx="89.49" cy="294.54" r="0.95"/><circle cx="91.09" cy="293.11" r="0.95"/><circle cx="92.70" cy="293.99" r="0.95"/><circle cx="94.31" cy="291.87" r="0.95"/><circle cx="95.91" cy="292.83" r="0.95"/><circle cx="97.52" cy="293.86" r="0.95"/><circle cx="99.12" cy="292.34" r="0.95"/><circle cx="100.72" cy="293.38" r="0.95"/><circle cx="102.33" cy="291.78" r="0.95"/><circle cx="103.94" cy="292.00" r="0.95"/><circle cx="105.54" cy="293.33" r="0.95"/><circle cx="107.15" cy="292.94" r="0.95"/><circle cx="108.75" cy="292.78" r="0.95"/><circle cx="110.36" cy="292.46" r="0.95"/><circle cx="111.96" cy="292.34" r="0.95"/><circle cx="113.56" cy="295.48" r="0.95"/><circle cx="115.17" cy="294.87" r="0.95"/><circle cx="116.78" cy="294.75" r="0.95"/><circle cx="118.38" cy="296.12" r="0.95"/><circle cx="119.98" cy="295.90" r="0.95"/><circle cx="121.59" cy="297.76" r="0.95"/><circle cx="123.19" cy="296.29" r="0.95"/><circle cx="124.80" cy="297.74" r="0.95"/><circle cx="126.41" cy="299.80" r="0.95"/><circle cx="128.01" cy="299.66" r="0.95"/><circle cx="129.62" cy="301.51" r="0.95"/><circle cx="131.22" cy="302.55" r="0.95"/><circle cx="132.83" cy="302.82" r="0.95"/><circle cx="134.43" cy="304.52" r="0.95"/><circle cx="136.03" cy="305.47" r="0.95"/><circle cx="137.64" cy="305.58" r="0.95"/><circle cx="139.25" cy="306.67" r="0.95"/><circle cx="140.85" cy="308.39" r="0.95"/><circle cx="142.46" cy="308.38" r="0.95"/><circle cx="144.06" cy="310.12" r="0.95"/><circle cx="145.66" cy="310.70" r="0.95"/><circle cx="147.27" cy="311.14" r="0.95"/><circle cx="148.88" cy="312.31" r="0.95"/><circle cx="150.48" cy="313.43" r="0.95"/><circle cx="152.09" cy="314.07" r="0.95"/><circle cx="153.69" cy="314.75" r="0.95"/><circle cx="155.30" cy="315.52" r="0.95"/><circle cx="156.90" cy="315.95" r="0.95"/><circle cx="158.50" cy="316.73" r="0.95"/><circle cx="160.11" cy="317.20" r="0.95"/><circle cx="161.72" cy="317.73" r="0.95"/><circle cx="163.32" cy="317.94" r="0.95"/><circle cx="164.93" cy="318.10" r="0.95"/><circle cx="166.53" cy="318.30" r="0.95"/><circle cx="168.13" cy="318.30" r="0.95"/><circle cx="169.74" cy="318.30" r="0.95"/><circle cx="171.34" cy="318.30" r="0.95"/><circle cx="172.95" cy="318.30" r="0.95"/><circle cx="174.56" cy="318.30" r="0.95"/><circle cx="176.16" cy="318.30" r="0.95"/><circle cx="177.77" cy="318.30" r="0.95"/><circle cx="179.37" cy="318.30" r="0.95"/><circle cx="180.97" cy="318.30" r="0.95"/><circle cx="182.58" cy="318.30" r="0.95"/><circle cx="184.19" cy="318.30" r="0.95"/><circle cx="185.79" cy="318.30" r="0.95"/><circle cx="187.40" cy="318.30" r="0.95"/><circle cx="189.00" cy="318.30" r="0.95"/><circle cx="190.60" cy="318.30" r="0.95"/><circle cx="192.21" cy="318.30" r="0.95"/><circle cx="193.81" cy="318.30" r="0.95"/><circle cx="195.42" cy="318.30" r="0.95"/><circle cx="197.03" cy="318.30" r="0.95"/><circle cx="198.63" cy="318.30" r="0.95"/><circle cx="200.23" cy="318.30" r="0.95"/><circle cx="201.84" cy="318.30" r="0.95"/><circle cx="203.44" cy="318.30" r="0.95"/><circle cx="205.05" cy="318.30" r="0.95"/><circle cx="206.66" cy="318.30" r="0.95"/><circle cx="208.26" cy="318.30" r="0.95"/><circle cx="209.87" cy="318.30" r="0.95"/><circle cx="211.47" cy="318.30" r="0.95"/><circle cx="213.07" cy="318.30" r="0.95"/><circle cx="214.68" cy="318.30" r="0.95"/><circle cx="216.28" cy="318.30" r="0.95"/><circle cx="217.89" cy="318.30" r="0.95"/><circle cx="219.50" cy="318.30" r="0.95"/><circle cx="221.10" cy="318.30" r="0.95"/><circle cx="222.70" cy="318.30" r="0.95"/></g>
<polyline points="60.60,311.22 61.08,285.86 61.56,269.04 62.04,262.11 62.53,250.56 63.01,252.44 63.49,250.22 63.97,259.20 64.45,263.65 64.93,275.45 65.42,284.39 66.06,283.67 66.70,293.42 67.34,299.71 67.98,301.72 68.62,296.53 69.43,294.87 70.23,293.57 71.84,290.30 73.44,288.28 75.05,287.59 76.65,284.34 78.25,281.65 79.86,285.42 81.47,284.25 83.07,281.99 84.67,279.90 86.28,282.38 87.89,285.01 89.49,284.00 91.09,284.09 92.70,285.65 94.31,283.15 95.91,286.65 97.52,283.81 99.12,287.10 100.72,285.19 102.33,290.11 103.94,286.73 105.54,288.21 107.15,285.45 108.75,286.07 110.36,290.73 111.96,287.00 113.56,286.90 115.17,292.72 116.78,292.05 118.38,293.65 119.98,294.22 121.59,296.21 123.19,294.76 124.80,294.43 126.41,293.18 128.01,297.10 129.62,297.79 131.22,296.76 132.83,302.49 134.43,302.64 136.03,301.91 137.64,299.55 139.25,303.96 140.85,305.04 142.46,307.36 144.06,306.45 145.66,306.07 147.27,308.90 148.88,310.78 150.48,309.87 152.09,311.63 153.69,310.48 155.30,312.23 156.90,313.18 158.50,313.48 160.11,313.04 161.72,314.64 163.32,314.76 164.93,315.49 166.53,315.49 168.13,315.73 169.74,315.76 171.34,316.41 172.95,315.93 174.56,316.43 176.16,316.06 177.77,316.98 179.37,317.17 180.97,317.12 182.58,316.94 184.19,316.81 185.79,317.30 187.40,317.12 189.00,317.08 190.60,316.88 192.21,317.06 193.81,316.82 195.42,317.17 197.03,316.48 198.63,316.87 200.23,316.62 201.84,316.83 203.44,316.77 205.05,316.47 206.66,317.03 208.26,317.24 209.87,316.56 211.47,316.55 213.07,316.99 214.68,316.60 216.28,317.31 217.89,316.86 219.50,317.10 221.10,316.82 222.70,317.40" fill="none" stroke="#4d5fc8" stroke-width="0.8" stroke-dasharray="0.9 0.8" stroke-opacity="1" stroke-linejoin="round"/>
<polyline points="60.60,316.30 61.08,306.77 61.56,289.80 62.04,278.73 62.53,274.58 63.01,280.62 63.49,281.97 63.97,278.48 64.45,284.04 64.93,289.59 65.42,296.10 66.06,308.37 66.70,310.43 67.34,309.83 67.98,318.30 68.62,314.42 69.43,317.99 70.23,314.50 71.84,306.69 73.44,303.17 75.05,305.97 76.65,300.13 78.25,303.36 79.86,297.36 81.47,298.27 83.07,299.46 84.67,301.03 86.28,299.78 87.89,303.95 89.49,300.30 91.09,304.98 92.70,305.79 94.31,301.65 95.91,298.43 97.52,304.91 99.12,302.97 100.72,303.49 102.33,304.10 103.94,302.94 105.54,302.43 107.15,302.38 108.75,297.36 110.36,300.84 111.96,299.25 113.56,302.72 115.17,301.74 116.78,298.97 118.38,301.68 119.98,301.60 121.59,304.22 123.19,305.71 124.80,303.99 126.41,303.05 128.01,305.07 129.62,304.62 131.22,306.87 132.83,308.86 134.43,308.81 136.03,309.24 137.64,310.54 139.25,311.46 140.85,310.94 142.46,311.95 144.06,313.30 145.66,312.86 147.27,314.22 148.88,312.83 150.48,314.49 152.09,314.90 153.69,314.77 155.30,314.91 156.90,316.59 158.50,316.79 160.11,316.49 161.72,317.25 163.32,316.82 164.93,317.67 166.53,317.12 168.13,317.14 169.74,317.49 171.34,317.77 172.95,317.58 174.56,317.73 176.16,317.95 177.77,317.83 179.37,318.13 180.97,318.06 182.58,318.07 184.19,318.10 185.79,318.11 187.40,318.03 189.00,317.96 190.60,318.01 192.21,318.10 193.81,317.89 195.42,318.01 197.03,318.13 198.63,317.89 200.23,318.00 201.84,318.08 203.44,318.02 205.05,317.99 206.66,318.11 208.26,317.97 209.87,317.92 211.47,318.07 213.07,317.97 214.68,318.12 216.28,318.02 217.89,318.02 219.50,317.95 221.10,318.09 222.70,317.97" fill="none" stroke="#4d5fc8" stroke-width="0.8" stroke-dasharray="0.9 0.8" stroke-opacity="1" stroke-linejoin="round"/>
<polyline points="60.60,312.69 61.08,297.31 61.56,282.94 62.04,270.28 62.53,264.97 63.01,260.56 63.49,267.09 63.97,268.06 64.45,272.59 64.93,281.30 65.42,288.34 66.06,297.85 66.70,302.28 67.34,305.66 67.98,306.50 68.62,306.02 69.43,305.39 70.23,303.38 71.84,300.15 73.44,296.37 75.05,294.35 76.65,294.71 78.25,292.82 79.86,294.80 81.47,292.14 83.07,292.35 84.67,291.98 86.28,291.97 87.89,294.43 89.49,294.73 91.09,293.10 92.70,293.59 94.31,294.80 95.91,292.99 97.52,293.83 99.12,293.68 100.72,295.00 102.33,293.43 103.94,294.02 105.54,293.37 107.15,293.54 108.75,294.96 110.36,294.99 111.96,295.63 113.56,295.86 115.17,296.57 116.78,296.58 118.38,296.84 119.98,299.00 121.59,298.56 123.19,300.04 124.80,300.91 126.41,300.58 128.01,301.71 129.62,302.53 131.22,303.37 132.83,304.17 134.43,305.42 136.03,304.57 137.64,306.17 139.25,306.80 140.85,308.27 142.46,309.47 144.06,309.18 145.66,310.31 147.27,310.92 148.88,312.06 150.48,312.57 152.09,313.00 153.69,313.13 155.30,314.02 156.90,314.32 158.50,314.66 160.11,315.06 161.72,315.63 163.32,316.01 164.93,316.36 166.53,316.54 168.13,316.86 169.74,316.99 171.34,317.22 172.95,317.44 174.56,317.56 176.16,317.55 177.77,317.66 179.37,317.70 180.97,317.74 182.58,317.73 184.19,317.76 185.79,317.74 187.40,317.76 189.00,317.78 190.60,317.78 192.21,317.79 193.81,317.80 195.42,317.80 197.03,317.78 198.63,317.77 200.23,317.81 201.84,317.82 203.44,317.78 205.05,317.81 206.66,317.82 208.26,317.83 209.87,317.82 211.47,317.81 213.07,317.83 214.68,317.84 216.28,317.86 217.89,317.83 219.50,317.87 221.10,317.85 222.70,317.84" fill="none" stroke="#7282d2" stroke-width="0.9" stroke-dasharray="none" stroke-opacity="1" stroke-linejoin="round"/>
<g fill="#3244b4"><circle cx="60.60" cy="312.69" r="0.95"/><circle cx="61.08" cy="297.31" r="0.95"/><circle cx="61.56" cy="282.94" r="0.95"/><circle cx="62.04" cy="270.28" r="0.95"/><circle cx="62.53" cy="264.97" r="0.95"/><circle cx="63.01" cy="260.56" r="0.95"/><circle cx="63.49" cy="267.09" r="0.95"/><circle cx="63.97" cy="268.06" r="0.95"/><circle cx="64.45" cy="272.59" r="0.95"/><circle cx="64.93" cy="281.30" r="0.95"/><circle cx="65.42" cy="288.34" r="0.95"/><circle cx="66.06" cy="297.85" r="0.95"/><circle cx="66.70" cy="302.28" r="0.95"/><circle cx="67.34" cy="305.66" r="0.95"/><circle cx="67.98" cy="306.50" r="0.95"/><circle cx="68.62" cy="306.02" r="0.95"/><circle cx="69.43" cy="305.39" r="0.95"/><circle cx="70.23" cy="303.38" r="0.95"/><circle cx="71.84" cy="300.15" r="0.95"/><circle cx="73.44" cy="296.37" r="0.95"/><circle cx="75.05" cy="294.35" r="0.95"/><circle cx="76.65" cy="294.71" r="0.95"/><circle cx="78.25" cy="292.82" r="0.95"/><circle cx="79.86" cy="294.80" r="0.95"/><circle cx="81.47" cy="292.14" r="0.95"/><circle cx="83.07" cy="292.35" r="0.95"/><circle cx="84.67" cy="291.98" r="0.95"/><circle cx="86.28" cy="291.97" r="0.95"/><circle cx="87.89" cy="294.43" r="0.95"/><circle cx="89.49" cy="294.73" r="0.95"/><circle cx="91.09" cy="293.10" r="0.95"/><circle cx="92.70" cy="293.59" r="0.95"/><circle cx="94.31" cy="294.80" r="0.95"/><circle cx="95.91" cy="292.99" r="0.95"/><circle cx="97.52" cy="293.83" r="0.95"/><circle cx="99.12" cy="293.68" r="0.95"/><circle cx="100.72" cy="295.00" r="0.95"/><circle cx="102.33" cy="293.43" r="0.95"/><circle cx="103.94" cy="294.02" r="0.95"/><circle cx="105.54" cy="293.37" r="0.95"/><circle cx="107.15" cy="293.54" r="0.95"/><circle cx="108.75" cy="294.96" r="0.95"/><circle cx="110.36" cy="294.99" r="0.95"/><circle cx="111.96" cy="295.63" r="0.95"/><circle cx="113.56" cy="295.86" r="0.95"/><circle cx="115.17" cy="296.57" r="0.95"/><circle cx="116.78" cy="296.58" r="0.95"/><circle cx="118.38" cy="296.84" r="0.95"/><circle cx="119.98" cy="299.00" r="0.95"/><circle cx="121.59" cy="298.56" r="0.95"/><circle cx="123.19" cy="300.04" r="0.95"/><circle cx="124.80" cy="300.91" r="0.95"/><circle cx="126.41" cy="300.58" r="0.95"/><circle cx="128.01" cy="301.71" r="0.95"/><circle cx="129.62" cy="302.53" r="0.95"/><circle cx="131.22" cy="303.37" r="0.95"/><circle cx="132.83" cy="304.17" r="0.95"/><circle cx="134.43" cy="305.42" r="0.95"/><circle cx="136.03" cy="304.57" r="0.95"/><circle cx="137.64" cy="306.17" r="0.95"/><circle cx="139.25" cy="306.80" r="0.95"/><circle cx="140.85" cy="308.27" r="0.95"/><circle cx="142.46" cy="309.47" r="0.95"/><circle cx="144.06" cy="309.18" r="0.95"/><circle cx="145.66" cy="310.31" r="0.95"/><circle cx="147.27" cy="310.92" r="0.95"/><circle cx="148.88" cy="312.06" r="0.95"/><circle cx="150.48" cy="312.57" r="0.95"/><circle cx="152.09" cy="313.00" r="0.95"/><circle cx="153.69" cy="313.13" r="0.95"/><circle cx="155.30" cy="314.02" r="0.95"/><circle cx="156.90" cy="314.32" r="0.95"/><circle cx="158.50" cy="314.66" r="0.95"/><circle cx="160.11" cy="315.06" r="0.95"/><circle cx="161.72" cy="315.63" r="0.95"/><circle cx="163.32" cy="316.01" r="0.95"/><circle cx="164.93" cy="316.36" r="0.95"/><circle cx="166.53" cy="316.54" r="0.95"/><circle cx="168.13" cy="316.86" r="0.95"/><circle cx="169.74" cy="316.99" r="0.95"/><circle cx="171.34" cy="317.22" r="0.95"/><circle cx="172.95" cy="317.44" r="0.95"/><circle cx="174.56" cy="317.56" r="0.95"/><circle cx="176.16" cy="317.55" r="0.95"/><circle cx="177.77" cy="317.66" r="0.95"/><circle cx="179.37" cy="317.70" r="0.95"/><circle cx="180.97" cy="317.74" r="0.95"/><circle cx="182.58" cy="317.73" r="0.95"/><circle cx="184.19" cy="317.76" r="0.95"/><circle cx="185.79" cy="317.74" r="0.95"/><circle cx="187.40" cy="317.76" r="0.95"/><circle cx="189.00" cy="317.78" r="0.95"/><circle cx="190.60" cy="317.78" r="0.95"/><circle cx="192.21" cy="317.79" r="0.95"/><circle cx="193.81" cy="317.80" r="0.95"/><circle cx="195.42" cy="317.80" r="0.95"/><circle cx="197.03" cy="317.78" r="0.95"/><circle cx="198.63" cy="317.77" r="0.95"/><circle cx="200.23" cy="317.81" r="0.95"/><circle cx="201.84" cy="317.82" r="0.95"/><circle cx="203.44" cy="317.78" r="0.95"/><circle cx="205.05" cy="317.81" r="0.95"/><circle cx="206.66" cy="317.82" r="0.95"/><circle cx="208.26" cy="317.83" r="0.95"/><circle cx="209.87" cy="317.82" r="0.95"/><circle cx="211.47" cy="317.81" r="0.95"/><circle cx="213.07" cy="317.83" r="0.95"/><circle cx="214.68" cy="317.84" r="0.95"/><circle cx="216.28" cy="317.86" r="0.95"/><circle cx="217.89" cy="317.83" r="0.95"/><circle cx="219.50" cy="317.87" r="0.95"/><circle cx="221.10" cy="317.85" r="0.95"/><circle cx="222.70" cy="317.84" r="0.95"/></g>
<polyline points="172.95,317.64 222.70,317.86" fill="none" stroke="#4d5fc8" stroke-width="2.0" stroke-dasharray="none" stroke-opacity="1" stroke-linejoin="round"/>
<text x="56.2" y="321.54" font-size="9.0" text-anchor="end" stroke="#1e1e1e" stroke-width="0.45" fill="#1e1e1e" >0</text>
<text x="56.2" y="293.84" font-size="9.0" text-anchor="end" stroke="#1e1e1e" stroke-width="0.45" fill="#1e1e1e" >500</text>
<text x="56.2" y="266.14" font-size="9.0" text-anchor="end" stroke="#1e1e1e" stroke-width="0.45" fill="#1e1e1e" >1000</text>
<text x="56.2" y="238.44" font-size="9.0" text-anchor="end" stroke="#1e1e1e" stroke-width="0.45" fill="#1e1e1e" >1500</text>
<text x="56.2" y="210.74" font-size="9.0" text-anchor="end" stroke="#1e1e1e" stroke-width="0.45" fill="#1e1e1e" >2000</text>
<text x="60.60" y="332.3" font-size="9.0" text-anchor="middle" stroke="#1e1e1e" stroke-width="0.45" fill="#1e1e1e" >0</text>
<text x="79.86" y="332.3" font-size="9.0" text-anchor="middle" stroke="#1e1e1e" stroke-width="0.45" fill="#1e1e1e" >120</text>
<text x="99.12" y="332.3" font-size="9.0" text-anchor="middle" stroke="#1e1e1e" stroke-width="0.45" fill="#1e1e1e" >240</text>
<text x="118.38" y="332.3" font-size="9.0" text-anchor="middle" stroke="#1e1e1e" stroke-width="0.45" fill="#1e1e1e" >360</text>
<text x="137.64" y="332.3" font-size="9.0" text-anchor="middle" stroke="#1e1e1e" stroke-width="0.45" fill="#1e1e1e" >480</text>
<text x="156.90" y="332.3" font-size="9.0" text-anchor="middle" stroke="#1e1e1e" stroke-width="0.45" fill="#1e1e1e" >600</text>
<text x="176.16" y="332.3" font-size="9.0" text-anchor="middle" stroke="#1e1e1e" stroke-width="0.45" fill="#1e1e1e" >720</text>
<text x="195.42" y="332.3" font-size="9.0" text-anchor="middle" stroke="#1e1e1e" stroke-width="0.45" fill="#1e1e1e" >840</text>
<text x="214.68" y="332.3" font-size="9.0" text-anchor="middle" stroke="#1e1e1e" stroke-width="0.45" fill="#1e1e1e" >960</text>
<text x="149.5" y="344.6" font-size="10.6" text-anchor="middle" stroke="#1e1e1e" stroke-width="0.15" fill="#1e1e1e" >Time (min)</text>
<text transform="translate(28.6,256.6) scale(1.0,1.0) rotate(-90)" font-size="10.1" fill="#1e1e1e" stroke="#1e1e1e" stroke-width="0.15" text-anchor="middle">Lum/OD<tspan font-size="6.1" dy="2.4" font-style="italic">600 nm</tspan></text>
<line x1="86.2" y1="218.3" x2="101.7" y2="218.3" stroke="#5a6ac6" stroke-width="1.0"/>
<circle cx="94.2" cy="218.3" r="1.6" fill="#3a4cbc"/>
<text x="104.5" y="221.70000000000002" font-size="10.5" fill="#1e1e1e" stroke="#1e1e1e" stroke-width="0.15"><tspan font-style="italic">P</tspan><tspan font-style="italic" font-size="6.5" dy="3.3">CYC1</tspan><tspan font-style="italic" dy="-3.3">-Luc</tspan> (Hap1 DBD)</text>
<line x1="86.2" y1="233.3" x2="101.7" y2="233.3" stroke="#9c9e3a" stroke-width="1.0"/>
<circle cx="94.2" cy="233.3" r="1.6" fill="#707208"/>
<text x="104.5" y="236.70000000000002" font-size="10.5" fill="#1e1e1e" stroke="#1e1e1e" stroke-width="0.15"><tspan font-style="italic">P</tspan><tspan font-style="italic" font-size="6.5" dy="3.3">CYC1</tspan><tspan font-style="italic" dy="-3.3">-Luc</tspan></text>
<text x="193.7" y="260.9" font-size="10.5" text-anchor="middle" stroke="#1e1e1e" stroke-width="0.15" fill="#1e1e1e" >BY4741</text>
<text x="194" y="273.3" font-size="10.5" fill="#1e1e1e" stroke="#1e1e1e" stroke-width="0.15" text-anchor="middle"><tspan font-style="italic">hap1</tspan><tspan stroke="none" fill="#3a3a3a">&#916;</tspan></text>
<text x="277.5" y="22.3" font-size="14" text-anchor="start" stroke="#1e1e1e" stroke-width="0.15" fill="#1e1e1e" >C</text>
<rect x="325.4" y="24.0" width="65.90" height="7.3" fill="#170909"/>
<rect x="391.3" y="24.0" width="20.10" height="7.3" fill="#1aa3de"/>
<rect x="411.4" y="24.0" width="74.10" height="7.3" fill="#170909"/>
<text x="356" y="22.0" font-size="10.3" text-anchor="middle" stroke="#1e1e1e" stroke-width="0.15" fill="#1e1e1e" >DD</text>
<text x="401.6" y="22.0" font-size="10.3" text-anchor="middle" stroke="#1e1e1e" stroke-width="0.15" fill="#1e1e1e" >BL</text>
<text x="450.9" y="22.0" font-size="10.3" text-anchor="middle" stroke="#1e1e1e" stroke-width="0.15" fill="#1e1e1e" >DD</text>
<line x1="324.7" y1="35.8" x2="324.7" y2="148.3" stroke="#333" stroke-width="1.1"/>
<line x1="322.7" y1="147.80" x2="324.7" y2="147.80" stroke="#111" stroke-width="1"/>
<line x1="322.7" y1="110.63" x2="324.7" y2="110.63" stroke="#111" stroke-width="1"/>
<line x1="322.7" y1="73.46" x2="324.7" y2="73.46" stroke="#111" stroke-width="1"/>
<line x1="322.7" y1="36.29" x2="324.7" y2="36.29" stroke="#111" stroke-width="1"/>
<line x1="324.2" y1="147.8" x2="482.7" y2="147.8" stroke="#222" stroke-width="1.1"/>
<line x1="324.70" y1="147.8" x2="324.70" y2="150.0" stroke="#222" stroke-width="1"/>
<line x1="343.58" y1="147.8" x2="343.58" y2="150.0" stroke="#222" stroke-width="1"/>
<line x1="362.45" y1="147.8" x2="362.45" y2="150.0" stroke="#222" stroke-width="1"/>
<line x1="381.33" y1="147.8" x2="381.33" y2="150.0" stroke="#222" stroke-width="1"/>
<line x1="400.20" y1="147.8" x2="400.20" y2="150.0" stroke="#222" stroke-width="1"/>
<line x1="419.08" y1="147.8" x2="419.08" y2="150.0" stroke="#222" stroke-width="1"/>
<line x1="437.96" y1="147.8" x2="437.96" y2="150.0" stroke="#222" stroke-width="1"/>
<line x1="456.83" y1="147.8" x2="456.83" y2="150.0" stroke="#222" stroke-width="1"/>
<line x1="475.71" y1="147.8" x2="475.71" y2="150.0" stroke="#222" stroke-width="1"/>
<polygon points="390.77,145.20 391.40,145.20 392.02,145.20 392.65,144.68 393.28,143.64 393.91,142.60 394.54,139.62 395.17,136.65 395.80,131.00 396.43,125.35 397.06,119.96 397.69,114.82 398.32,109.68 398.95,101.88 399.57,93.18 400.20,85.57 400.83,78.32 401.46,73.61 402.09,69.74 402.72,65.88 403.35,62.01 403.98,59.21 404.61,56.40 405.24,53.59 405.87,50.79 406.50,49.51 407.13,48.23 407.75,46.95 408.38,45.67 409.01,44.39 409.64,43.11 410.27,44.97 410.90,47.88 411.53,50.79 412.16,55.78 412.79,60.76 413.42,70.00 414.05,79.44 414.68,85.24 415.30,91.04 415.93,101.19 416.56,108.14 417.19,110.44 417.82,112.75 418.45,115.05 419.08,117.10 419.71,118.88 420.34,120.67 420.97,122.45 421.60,124.22 422.23,125.97 422.86,127.71 423.48,129.45 424.11,131.19 424.74,132.93 425.37,133.78 426.00,134.63 426.63,135.48 427.26,136.33 427.89,137.18 428.52,138.12 429.15,139.09 429.78,140.06 430.41,141.03 431.03,142.00 431.66,142.97 432.29,143.37 432.92,143.78 433.55,144.18 434.18,144.58 434.81,144.99 435.44,145.39 436.07,145.79 436.70,145.86 437.33,145.92 437.96,145.99 438.59,146.05 439.21,146.12 439.84,146.18 440.47,146.25 441.10,146.31 441.10,146.89 440.47,146.89 439.84,146.89 439.21,146.89 438.59,146.89 437.96,146.88 437.33,146.88 436.70,146.88 436.07,146.88 435.44,146.87 434.81,146.87 434.18,146.75 433.55,146.64 432.92,146.52 432.29,146.40 431.66,146.29 431.03,146.17 430.41,146.06 429.78,145.94 429.15,145.82 428.52,145.42 427.89,144.93 427.26,144.44 426.63,143.95 426.00,143.46 425.37,142.97 424.74,142.08 424.11,141.18 423.48,140.29 422.86,139.40 422.23,138.51 421.60,137.62 420.97,136.50 420.34,135.31 419.71,134.12 419.08,132.93 418.45,130.90 417.82,128.87 417.19,126.84 416.56,124.80 415.93,122.83 415.30,120.93 414.68,119.02 414.05,116.48 413.42,113.32 412.79,110.15 412.16,106.99 411.53,95.21 410.90,83.43 410.27,80.78 409.64,81.18 409.01,81.58 408.38,81.98 407.75,82.57 407.13,83.21 406.50,83.86 405.87,84.50 405.24,84.20 404.61,83.89 403.98,83.59 403.35,83.28 402.72,82.98 402.09,86.82 401.46,92.05 400.83,96.13 400.20,100.22 399.57,104.68 398.95,109.14 398.32,113.67 397.69,118.40 397.06,123.13 396.43,128.10 395.80,133.30 395.17,138.51 394.54,141.30 393.91,144.08 393.28,145.05 392.65,146.02 392.02,146.50 391.40,146.50 390.77,146.50" fill="#d7d8e2" fill-opacity="1" stroke="none"/>
<polyline points="392.02,146.24 392.65,146.34 393.28,146.54 393.91,146.73 394.54,146.93 395.17,146.98 395.80,146.99 396.43,146.99 397.06,146.99 397.69,146.99 398.32,147.00 398.95,147.00 399.57,147.00 400.20,147.00 400.83,147.00 401.46,147.01 402.09,147.01 402.72,147.01 403.35,147.01 403.98,147.02 404.61,147.02 405.24,147.02 405.87,147.02 406.50,147.03 407.13,147.03 407.75,147.03 408.38,147.03 409.01,147.04 409.64,147.04 410.27,147.04 410.90,147.04 411.53,147.04 412.16,147.05 412.79,147.05 413.42,147.05 414.05,147.05 414.68,147.06 415.30,147.06 415.93,147.06 416.56,147.06 417.19,147.07 417.82,147.07 418.45,147.07 419.08,147.07 419.71,147.07 420.34,147.08 420.97,147.08 421.60,147.08 422.23,147.08 422.86,147.09 423.48,147.09 424.11,147.09 424.74,147.09 425.37,147.10 426.00,147.10 426.63,147.10 427.26,147.10 427.89,147.11 428.52,147.11 429.15,147.11 429.78,147.11 430.41,147.11 431.03,147.12 431.66,147.12 432.29,147.12 432.92,147.12 433.55,147.13 434.18,147.13 434.81,147.13 435.44,147.13 436.07,147.13 436.70,147.14 437.33,147.14 437.96,147.14 438.59,147.14 439.21,147.14 439.84,147.14 440.47,147.14 441.10,147.15 441.73,147.15 442.36,147.15 442.99,147.15 443.62,147.15 444.25,147.15 444.88,147.15 445.51,147.16 446.14,147.16 446.76,147.16 447.39,147.16 448.02,147.16 448.65,147.16 449.28,147.16 449.91,147.17 450.54,147.17 451.17,147.17 451.80,147.17 452.43,147.17 453.06,147.17 453.69,147.17 454.32,147.18 454.94,147.18 455.57,147.18 456.20,147.18 456.83,147.18 457.46,147.18 458.09,147.18 458.72,147.19 459.35,147.19 459.98,147.19 460.61,147.19 461.24,147.19 461.87,147.19 462.49,147.19 463.12,147.20 463.75,147.20 464.38,147.20 465.01,147.20 465.64,147.20 466.27,147.20 466.90,147.20 467.53,147.21 468.16,147.21 468.79,147.21 469.42,147.21 470.05,147.21 470.67,147.21 471.30,147.21 471.93,147.22 472.56,147.22 473.19,147.22 473.82,147.22 474.45,147.22 475.08,147.22 475.71,147.22 476.34,147.23 476.97,147.23 477.60,147.23 478.22,147.23 478.85,147.23 479.48,147.23 480.11,147.23 480.74,147.24 481.37,147.24 482.00,147.24 482.63,147.24 483.26,147.24" fill="none" stroke="#8f9120" stroke-width="1.9" stroke-dasharray="none" stroke-opacity="1" stroke-linejoin="round"/>
<polyline points="324.70,146.31 325.33,145.57 325.96,144.83 326.59,143.96 327.22,142.97 327.85,141.98 328.48,142.08 329.10,143.27 329.73,144.45 330.36,145.12 330.99,145.79 331.62,146.13 332.25,146.14 332.88,146.14 333.51,146.15 334.14,146.15 334.77,146.16 335.40,146.16 336.03,146.17 336.65,146.17 337.28,146.18 337.91,146.18 338.54,146.19 339.17,146.19 339.80,146.20 340.43,146.20 341.06,146.20 341.69,146.20 342.32,146.20 342.95,146.20 343.58,146.20 344.21,146.20 344.83,146.20 345.46,146.20 346.09,146.20 346.72,146.20 347.35,146.20 347.98,146.20 348.61,146.20 349.24,146.20 349.87,146.20 350.50,146.20 351.13,146.20 351.76,146.20 352.38,146.20 353.01,146.20 353.64,146.20 354.27,146.20 354.90,146.20 355.53,146.20 356.16,146.20 356.79,146.20 357.42,146.20 358.05,146.20 358.68,146.20 359.31,146.20 359.94,146.20 360.56,146.20 361.19,146.20 361.82,146.20 362.45,146.20 363.08,146.20 363.71,146.20 364.34,146.20 364.97,146.20 365.60,146.20 366.23,146.20 366.86,146.20 367.49,146.20 368.11,146.20 368.74,146.20 369.37,146.20 370.00,146.20 370.63,146.20 371.26,146.20 371.89,146.20 372.52,146.20 373.15,146.20 373.78,146.20 374.41,146.20 375.04,146.20 375.67,146.20 376.29,146.20 376.92,146.20 377.55,146.20 378.18,146.20 378.81,146.20 379.44,146.20 380.07,146.20 380.70,146.20 381.33,146.20 381.96,146.20 382.59,146.20 383.22,146.20 383.84,146.20 384.47,146.20 385.10,146.20 385.73,146.20 386.36,146.20 386.99,146.20 387.62,146.20 388.25,146.19 388.88,146.18 389.51,146.17 390.14,146.16 390.77,146.15 391.40,146.14 392.02,146.13 392.65,145.57 393.28,144.45" fill="none" stroke="#4d5fc8" stroke-width="2.3" stroke-dasharray="none" stroke-opacity="1" stroke-linejoin="round"/>
<polyline points="433.55,146.18 434.18,146.33 434.81,146.49 435.44,146.64 436.07,146.79 436.70,146.89 437.33,146.92 437.96,146.95 438.59,146.97 439.21,147.00 439.84,147.03 440.47,147.06 441.10,147.09 441.73,147.12 442.36,147.15 442.99,147.18 443.62,147.21 444.25,147.24 444.88,147.24 445.51,147.25 446.14,147.25 446.76,147.25 447.39,147.25 448.02,147.25 448.65,147.25 449.28,147.26 449.91,147.26 450.54,147.26 451.17,147.26 451.80,147.26 452.43,147.27 453.06,147.27 453.69,147.27 454.32,147.27 454.94,147.27 455.57,147.27 456.20,147.28 456.83,147.28 457.46,147.28 458.09,147.28 458.72,147.28 459.35,147.29 459.98,147.29 460.61,147.29 461.24,147.29 461.87,147.29 462.49,147.29 463.12,147.30 463.75,147.30 464.38,147.30 465.01,147.30 465.64,147.30 466.27,147.30 466.90,147.31 467.53,147.31 468.16,147.31 468.79,147.31 469.42,147.31 470.05,147.32 470.67,147.32 471.30,147.32 471.93,147.32 472.56,147.32 473.19,147.32 473.82,147.33 474.45,147.33 475.08,147.33 475.71,147.33 476.34,147.33 476.97,147.34 477.60,147.34 478.22,147.34 478.85,147.34 479.48,147.34 480.11,147.34 480.74,147.35 481.37,147.35 482.00,147.35 482.63,147.35 483.26,147.35" fill="none" stroke="#4d5fc8" stroke-width="2.0" stroke-dasharray="none" stroke-opacity="1" stroke-linejoin="round"/>
<polyline points="324.70,147.06 325.33,145.87 325.96,144.68 326.59,143.28 327.22,141.67 327.85,140.06 328.48,139.99 329.10,141.48 329.73,142.97 330.36,144.45 330.99,145.38 331.62,145.76 332.25,146.13 332.88,146.16 333.51,146.20" fill="none" stroke="#9a9c2a" stroke-width="1.1" stroke-dasharray="none" stroke-opacity="1" stroke-linejoin="round"/>
<polyline points="392.02,145.20 392.65,144.68 393.28,143.64 393.91,142.60 394.54,139.62 395.17,136.65 395.80,131.00 396.43,125.35 397.06,119.96 397.69,114.82 398.32,109.68 398.95,101.88 399.57,93.18 400.20,85.57 400.83,78.32 401.46,73.61 402.09,69.74 402.72,65.88 403.35,62.01 403.98,59.21 404.61,56.40 405.24,53.59 405.87,50.79 406.50,49.51 407.13,48.23 407.75,46.95 408.38,45.67 409.01,44.39 409.64,43.11 410.27,44.97 410.90,47.88 411.53,50.79 412.16,55.78 412.79,60.76 413.42,70.00 414.05,79.44 414.68,85.24 415.30,91.04 415.93,101.19 416.56,108.14 417.19,110.44 417.82,112.75 418.45,115.05 419.08,117.10 419.71,118.88 420.34,120.67 420.97,122.45 421.60,124.22 422.23,125.97 422.86,127.71 423.48,129.45 424.11,131.19 424.74,132.93 425.37,133.78 426.00,134.63 426.63,135.48 427.26,136.33 427.89,137.18 428.52,138.12 429.15,139.09 429.78,140.06 430.41,141.03 431.03,142.00 431.66,142.97 432.29,143.37 432.92,143.78 433.55,144.18 434.18,144.58 434.81,144.99 435.44,145.39 436.07,145.79 436.70,145.86 437.33,145.92 437.96,145.99" fill="none" stroke="#4d5fc8" stroke-width="1.4" stroke-dasharray="2.6 1.2" stroke-opacity="1" stroke-linejoin="round"/>
<polyline points="392.02,146.50 392.65,146.02 393.28,145.05 393.91,144.08 394.54,141.30 395.17,138.51 395.80,133.30 396.43,128.10 397.06,123.13 397.69,118.40 398.32,113.67 398.95,109.14 399.57,104.68 400.20,100.22 400.83,96.13 401.46,92.05 402.09,86.82 402.72,82.98 403.35,83.28 403.98,83.59 404.61,83.89 405.24,84.20 405.87,84.50 406.50,83.86 407.13,83.21 407.75,82.57 408.38,81.98 409.01,81.58 409.64,81.18 410.27,80.78 410.90,83.43 411.53,95.21 412.16,106.99 412.79,110.15 413.42,113.32 414.05,116.48 414.68,119.02 415.30,120.93 415.93,122.83 416.56,124.80 417.19,126.84 417.82,128.87 418.45,130.90 419.08,132.93 419.71,134.12 420.34,135.31 420.97,136.50 421.60,137.62 422.23,138.51 422.86,139.40 423.48,140.29 424.11,141.18 424.74,142.08 425.37,142.97 426.00,143.46 426.63,143.95 427.26,144.44 427.89,144.93 428.52,145.42 429.15,145.82 429.78,145.94 430.41,146.06 431.03,146.17 431.66,146.29 432.29,146.40 432.92,146.52 433.55,146.64 434.18,146.75 434.81,146.87 435.44,146.87 436.07,146.88 436.70,146.88 437.33,146.88 437.96,146.88" fill="none" stroke="#4d5fc8" stroke-width="1.4" stroke-dasharray="2.6 1.2" stroke-opacity="1" stroke-linejoin="round"/>
<polyline points="392.02,146.13 392.65,145.57 393.28,144.45 393.91,143.34 394.54,140.37 395.17,137.39 395.80,131.97 396.43,126.54 397.06,121.37 397.69,116.45 398.32,111.53 398.95,107.08 399.57,102.80 400.20,98.51 400.83,94.26 401.46,90.00 402.09,82.67 402.72,76.69 403.35,74.76 403.98,72.83 404.61,71.30 405.24,69.91 405.87,68.52 406.50,67.37 407.13,66.23 407.75,65.10 408.38,64.00 409.01,62.90 409.64,64.03 410.27,65.15 410.90,67.19 411.53,71.99 412.16,76.79 412.79,86.02 413.42,96.73 414.05,104.04 414.68,107.70 415.30,110.53 415.93,113.37 416.56,116.21 417.19,118.37 417.82,120.54 418.45,122.70 419.08,124.73 419.71,126.62 420.34,128.51 420.97,130.40 421.60,132.08 422.23,133.14 422.86,134.21 423.48,135.27 424.11,136.33 424.74,137.39 425.37,138.38 426.00,139.37 426.63,140.37 427.26,141.36 427.89,142.35 428.52,143.34 429.15,143.79 429.78,144.23 430.41,144.68 431.03,145.12 431.66,145.57 432.29,145.87 432.92,146.02 433.55,146.18 434.18,146.33 434.81,146.49 435.44,146.64 436.07,146.79 436.70,146.89 437.33,146.92 437.96,146.95" fill="none" stroke="#4d5fc8" stroke-width="1.6" stroke-dasharray="2.6 1.0" stroke-opacity="1" stroke-linejoin="round"/>
<line x1="391.3" y1="31.2" x2="391.3" y2="147.5" stroke="#2bb3ea" stroke-width="1.2" stroke-dasharray="4 3.7" stroke-dashoffset="1.60"/>
<line x1="411.4" y1="31.2" x2="411.4" y2="147.5" stroke="#2bb3ea" stroke-width="1.3" stroke-dasharray="4 3.7" stroke-dashoffset="1.60"/>
<text x="321.5" y="150.86" font-size="8.5" text-anchor="end" stroke="#1e1e1e" stroke-width="0.45" fill="#1e1e1e" >0</text>
<text x="321.5" y="113.69" font-size="8.5" text-anchor="end" stroke="#1e1e1e" stroke-width="0.45" fill="#1e1e1e" >10,000</text>
<text x="321.5" y="76.52" font-size="8.5" text-anchor="end" stroke="#1e1e1e" stroke-width="0.45" fill="#1e1e1e" >20,000</text>
<text x="321.5" y="39.35" font-size="8.5" text-anchor="end" stroke="#1e1e1e" stroke-width="0.45" fill="#1e1e1e" >30,000</text>
<text x="324.70" y="160.2" font-size="8.6" text-anchor="middle" stroke="#1e1e1e" stroke-width="0.45" fill="#1e1e1e" >0</text>
<text x="343.58" y="160.2" font-size="8.6" text-anchor="middle" stroke="#1e1e1e" stroke-width="0.45" fill="#1e1e1e" >120</text>
<text x="362.45" y="160.2" font-size="8.6" text-anchor="middle" stroke="#1e1e1e" stroke-width="0.45" fill="#1e1e1e" >240</text>
<text x="381.33" y="160.2" font-size="8.6" text-anchor="middle" stroke="#1e1e1e" stroke-width="0.45" fill="#1e1e1e" >360</text>
<text x="400.20" y="160.2" font-size="8.6" text-anchor="middle" stroke="#1e1e1e" stroke-width="0.45" fill="#1e1e1e" >480</text>
<text x="419.08" y="160.2" font-size="8.6" text-anchor="middle" stroke="#1e1e1e" stroke-width="0.45" fill="#1e1e1e" >600</text>
<text x="437.96" y="160.2" font-size="8.6" text-anchor="middle" stroke="#1e1e1e" stroke-width="0.45" fill="#1e1e1e" >720</text>
<text x="456.83" y="160.2" font-size="8.6" text-anchor="middle" stroke="#1e1e1e" stroke-width="0.45" fill="#1e1e1e" >840</text>
<text x="475.71" y="160.2" font-size="8.6" text-anchor="middle" stroke="#1e1e1e" stroke-width="0.45" fill="#1e1e1e" >960</text>
<text x="409.2" y="173.6" font-size="10.6" text-anchor="middle" stroke="#1e1e1e" stroke-width="0.15" fill="#1e1e1e" >Time (min)</text>
<text transform="translate(292.1,88.0) scale(1.0,0.93) rotate(-90)" font-size="10.3" fill="#1e1e1e" stroke="#1e1e1e" stroke-width="0.15" text-anchor="middle">Lum/OD<tspan font-size="6.9" dy="2.4">600 nm</tspan></text>
<line x1="421.4" y1="47.0" x2="436.9" y2="47.0" stroke="#5a6ac6" stroke-width="1.0"/>
<circle cx="429.4" cy="47.0" r="1.6" fill="#3a4cbc"/>
<text x="438.8" y="50.4" font-size="10.5" fill="#1e1e1e" stroke="#1e1e1e" stroke-width="0.15"><tspan font-style="italic">P</tspan><tspan font-style="italic" font-size="6.5" dy="3.3">CYC1</tspan><tspan font-style="italic" dy="-3.3">-Luc</tspan> (Hap1 DBD)</text>
<line x1="421.4" y1="62.0" x2="436.9" y2="62.0" stroke="#9c9e3a" stroke-width="1.0"/>
<circle cx="429.4" cy="62.0" r="1.6" fill="#707208"/>
<text x="438.8" y="65.4" font-size="10.5" fill="#1e1e1e" stroke="#1e1e1e" stroke-width="0.15"><tspan font-style="italic">P</tspan><tspan font-style="italic" font-size="6.5" dy="3.3">CYC1</tspan><tspan font-style="italic" dy="-3.3">-Luc</tspan></text>
<text x="357.1" y="99.7" font-size="10.5" text-anchor="middle" stroke="#1e1e1e" stroke-width="0.15" fill="#1e1e1e" >HAP-LOV</text>
<text x="456" y="94.7" font-size="10.5" text-anchor="middle" stroke="#1e1e1e" stroke-width="0.15" fill="#1e1e1e" >BY4741</text>
<text x="456.3" y="106.8" font-size="10.5" fill="#1e1e1e" stroke="#1e1e1e" stroke-width="0.15" text-anchor="middle"><tspan font-style="italic">hap1</tspan><tspan stroke="none" fill="#3a3a3a">&#916;</tspan></text>
<line x1="325.2" y1="148.5" x2="339.7" y2="201.5" stroke="#333" stroke-width="1" stroke-dasharray="3 2.5"/>
<line x1="391.3" y1="148.5" x2="470.5" y2="201.5" stroke="#333" stroke-width="1" stroke-dasharray="3 2.5"/>
<rect x="339.7" y="201.8" width="131.60" height="7.2" fill="#170909"/>
<text x="403.5" y="199.3" font-size="10.3" text-anchor="middle" stroke="#1e1e1e" stroke-width="0.15" fill="#1e1e1e" >DD</text>
<line x1="339.4" y1="212.8" x2="339.4" y2="303.8" stroke="#555" stroke-width="1.1"/>
<line x1="337.4" y1="303.30" x2="339.4" y2="303.30" stroke="#111" stroke-width="1"/>
<line x1="337.4" y1="273.40" x2="339.4" y2="273.40" stroke="#111" stroke-width="1"/>
<line x1="337.4" y1="243.50" x2="339.4" y2="243.50" stroke="#111" stroke-width="1"/>
<line x1="337.4" y1="213.60" x2="339.4" y2="213.60" stroke="#111" stroke-width="1"/>
<line x1="338.9" y1="303.3" x2="469" y2="303.3" stroke="#222" stroke-width="1.1"/>
<line x1="339.40" y1="303.3" x2="339.40" y2="306.3" stroke="#222" stroke-width="1"/>
<line x1="376.52" y1="303.3" x2="376.52" y2="306.3" stroke="#222" stroke-width="1"/>
<line x1="413.63" y1="303.3" x2="413.63" y2="306.3" stroke="#222" stroke-width="1"/>
<line x1="450.75" y1="303.3" x2="450.75" y2="306.3" stroke="#222" stroke-width="1"/>
<polygon points="339.40,297.99 340.64,280.13 341.87,263.29 343.11,248.85 344.35,238.55 345.59,234.42 346.82,245.42 348.06,258.48 349.30,269.47 350.53,276.89 351.77,281.84 353.32,285.81 356.10,287.64 358.89,288.30 361.67,285.96 364.45,287.57 367.24,287.09 370.02,284.08 372.80,284.33 375.59,283.30 378.37,283.86 381.16,284.26 383.94,282.77 386.72,282.73 389.51,284.19 392.29,285.68 395.07,285.30 397.86,283.43 400.64,285.65 403.43,283.85 406.21,284.61 408.99,285.66 411.78,283.80 414.56,285.99 417.34,286.04 420.13,285.73 422.91,284.23 425.69,285.81 428.48,284.64 431.26,286.11 434.05,284.67 436.83,285.93 439.61,286.04 442.40,287.00 445.18,285.77 447.96,284.93 450.75,285.17 453.53,285.06 456.32,287.49 459.10,288.02 461.88,287.30 464.67,289.10 467.45,287.62 470.23,288.28 470.23,296.57 467.45,296.30 464.67,294.09 461.88,295.26 459.10,293.47 456.32,293.48 453.53,292.78 450.75,294.49 447.96,293.68 445.18,293.86 442.40,293.15 439.61,293.60 436.83,293.29 434.05,293.60 431.26,293.09 428.48,293.46 425.69,293.13 422.91,293.13 420.13,291.75 417.34,292.49 414.56,293.57 411.78,293.00 408.99,292.47 406.21,291.69 403.43,292.90 400.64,291.24 397.86,291.20 395.07,291.57 392.29,293.75 389.51,292.72 386.72,290.21 383.94,290.79 381.16,291.41 378.37,291.39 375.59,290.64 372.80,290.42 370.02,291.66 367.24,292.03 364.45,293.11 361.67,295.31 358.89,294.90 356.10,295.00 353.32,292.99 351.77,292.87 350.53,289.49 349.30,284.41 348.06,276.89 346.82,267.96 345.59,260.44 344.35,263.26 343.11,270.31 341.87,280.18 340.64,291.70 339.40,303.30" fill="#d5d6c6" fill-opacity="1" stroke="none"/>
<polygon points="339.40,298.15 340.64,281.88 341.87,266.54 343.11,253.40 344.35,244.01 345.59,240.26 346.82,250.27 348.06,262.16 349.30,272.17 350.53,278.93 351.77,283.44 353.32,285.58 356.10,288.98 358.89,286.88 361.67,287.68 364.45,284.42 367.24,285.60 370.02,284.00 372.80,282.67 375.59,280.71 378.37,286.13 381.16,282.63 383.94,281.78 386.72,284.67 389.51,283.48 392.29,285.76 395.07,283.86 397.86,283.35 400.64,285.70 403.43,284.16 406.21,283.84 408.99,285.22 411.78,284.26 414.56,285.38 417.34,283.98 420.13,285.85 422.91,283.95 425.69,287.18 428.48,286.18 431.26,286.73 434.05,285.22 436.83,285.46 439.61,286.16 442.40,286.15 445.18,284.13 447.96,288.58 450.75,288.18 453.53,284.14 456.32,287.10 459.10,286.32 461.88,288.03 464.67,289.50 467.45,287.41 470.23,287.12 470.23,297.36 467.45,296.28 464.67,297.80 461.88,295.69 459.10,294.23 456.32,295.48 453.53,295.09 450.75,296.78 447.96,294.86 445.18,295.29 442.40,296.28 439.61,294.09 436.83,294.25 434.05,293.52 431.26,294.13 428.48,292.70 425.69,294.20 422.91,294.33 420.13,294.13 417.34,292.85 414.56,295.35 411.78,294.90 408.99,294.64 406.21,291.88 403.43,295.88 400.64,293.35 397.86,295.18 395.07,293.25 392.29,296.11 389.51,295.23 386.72,295.00 383.94,293.07 381.16,294.17 378.37,294.99 375.59,289.44 372.80,293.71 370.02,293.65 367.24,295.26 364.45,297.36 361.67,296.70 358.89,297.77 356.10,294.92 353.32,294.89 351.77,296.76 350.53,294.45 349.30,290.99 348.06,285.86 346.82,279.77 345.59,274.64 344.35,276.56 343.11,281.37 341.87,288.10 340.64,295.96 339.40,303.30" fill="#d7d8e2" fill-opacity="0.75" stroke="none"/>
<polyline points="339.40,297.99 340.64,280.13 341.87,263.29 343.11,248.85 344.35,238.55 345.59,234.42 346.82,245.42 348.06,258.48 349.30,269.47 350.53,276.89 351.77,281.84 353.32,285.81 356.10,287.64 358.89,288.30 361.67,285.96 364.45,287.57 367.24,287.09 370.02,284.08 372.80,284.33 375.59,283.30 378.37,283.86 381.16,284.26 383.94,282.77 386.72,282.73 389.51,284.19 392.29,285.68 395.07,285.30 397.86,283.43 400.64,285.65 403.43,283.85 406.21,284.61 408.99,285.66 411.78,283.80 414.56,285.99 417.34,286.04 420.13,285.73 422.91,284.23 425.69,285.81 428.48,284.64 431.26,286.11 434.05,284.67 436.83,285.93 439.61,286.04 442.40,287.00 445.18,285.77 447.96,284.93 450.75,285.17 453.53,285.06 456.32,287.49 459.10,288.02 461.88,287.30 464.67,289.10 467.45,287.62 470.23,288.28" fill="none" stroke="#8f9120" stroke-width="0.9" stroke-dasharray="1 0.8" stroke-opacity="1" stroke-linejoin="round"/>
<polyline points="339.40,303.30 340.64,291.70 341.87,280.18 343.11,270.31 344.35,263.26 345.59,260.44 346.82,267.96 348.06,276.89 349.30,284.41 350.53,289.49 351.77,292.87 353.32,292.99 356.10,295.00 358.89,294.90 361.67,295.31 364.45,293.11 367.24,292.03 370.02,291.66 372.80,290.42 375.59,290.64 378.37,291.39 381.16,291.41 383.94,290.79 386.72,290.21 389.51,292.72 392.29,293.75 395.07,291.57 397.86,291.20 400.64,291.24 403.43,292.90 406.21,291.69 408.99,292.47 411.78,293.00 414.56,293.57 417.34,292.49 420.13,291.75 422.91,293.13 425.69,293.13 428.48,293.46 431.26,293.09 434.05,293.60 436.83,293.29 439.61,293.60 442.40,293.15 445.18,293.86 447.96,293.68 450.75,294.49 453.53,292.78 456.32,293.48 459.10,293.47 461.88,295.26 464.67,294.09 467.45,296.30 470.23,296.57" fill="none" stroke="#8f9120" stroke-width="0.9" stroke-dasharray="1 0.8" stroke-opacity="1" stroke-linejoin="round"/>
<polyline points="339.40,301.76 340.64,285.75 341.87,270.66 343.11,257.72 344.35,248.48 345.59,244.79 346.82,254.64 348.06,266.34 349.30,276.20 350.53,282.85 351.77,287.29 353.32,288.81 356.10,291.04 358.89,290.90 361.67,290.55 364.45,289.85 367.24,288.94 370.02,288.45 372.80,287.08 375.59,286.56 378.37,286.98 381.16,287.90 383.94,287.03 386.72,287.29 389.51,288.62 392.29,288.42 395.07,288.74 397.86,288.79 400.64,288.49 403.43,289.19 406.21,288.80 408.99,287.63 411.78,288.36 414.56,288.18 417.34,288.82 420.13,288.88 422.91,288.29 425.69,288.12 428.48,288.63 431.26,288.54 434.05,288.11 436.83,288.45 439.61,289.62 442.40,289.76 445.18,289.68 447.96,289.67 450.75,290.12 453.53,290.02 456.32,289.77 459.10,290.39 461.88,291.59 464.67,291.72 467.45,291.41 470.23,292.48" fill="none" stroke="#a8aa48" stroke-width="0.8" stroke-dasharray="none" stroke-opacity="1" stroke-linejoin="round"/>
<g fill="#707208"><circle cx="339.40" cy="301.76" r="1.0"/><circle cx="340.64" cy="285.75" r="1.0"/><circle cx="341.87" cy="270.66" r="1.0"/><circle cx="343.11" cy="257.72" r="1.0"/><circle cx="344.35" cy="248.48" r="1.0"/><circle cx="345.59" cy="244.79" r="1.0"/><circle cx="346.82" cy="254.64" r="1.0"/><circle cx="348.06" cy="266.34" r="1.0"/><circle cx="349.30" cy="276.20" r="1.0"/><circle cx="350.53" cy="282.85" r="1.0"/><circle cx="351.77" cy="287.29" r="1.0"/><circle cx="353.32" cy="288.81" r="1.0"/><circle cx="356.10" cy="291.04" r="1.0"/><circle cx="358.89" cy="290.90" r="1.0"/><circle cx="361.67" cy="290.55" r="1.0"/><circle cx="364.45" cy="289.85" r="1.0"/><circle cx="367.24" cy="288.94" r="1.0"/><circle cx="370.02" cy="288.45" r="1.0"/><circle cx="372.80" cy="287.08" r="1.0"/><circle cx="375.59" cy="286.56" r="1.0"/><circle cx="378.37" cy="286.98" r="1.0"/><circle cx="381.16" cy="287.90" r="1.0"/><circle cx="383.94" cy="287.03" r="1.0"/><circle cx="386.72" cy="287.29" r="1.0"/><circle cx="389.51" cy="288.62" r="1.0"/><circle cx="392.29" cy="288.42" r="1.0"/><circle cx="395.07" cy="288.74" r="1.0"/><circle cx="397.86" cy="288.79" r="1.0"/><circle cx="400.64" cy="288.49" r="1.0"/><circle cx="403.43" cy="289.19" r="1.0"/><circle cx="406.21" cy="288.80" r="1.0"/><circle cx="408.99" cy="287.63" r="1.0"/><circle cx="411.78" cy="288.36" r="1.0"/><circle cx="414.56" cy="288.18" r="1.0"/><circle cx="417.34" cy="288.82" r="1.0"/><circle cx="420.13" cy="288.88" r="1.0"/><circle cx="422.91" cy="288.29" r="1.0"/><circle cx="425.69" cy="288.12" r="1.0"/><circle cx="428.48" cy="288.63" r="1.0"/><circle cx="431.26" cy="288.54" r="1.0"/><circle cx="434.05" cy="288.11" r="1.0"/><circle cx="436.83" cy="288.45" r="1.0"/><circle cx="439.61" cy="289.62" r="1.0"/><circle cx="442.40" cy="289.76" r="1.0"/><circle cx="445.18" cy="289.68" r="1.0"/><circle cx="447.96" cy="289.67" r="1.0"/><circle cx="450.75" cy="290.12" r="1.0"/><circle cx="453.53" cy="290.02" r="1.0"/><circle cx="456.32" cy="289.77" r="1.0"/><circle cx="459.10" cy="290.39" r="1.0"/><circle cx="461.88" cy="291.59" r="1.0"/><circle cx="464.67" cy="291.72" r="1.0"/><circle cx="467.45" cy="291.41" r="1.0"/><circle cx="470.23" cy="292.48" r="1.0"/></g>
<polyline points="339.40,298.15 340.64,281.88 341.87,266.54 343.11,253.40 344.35,244.01 345.59,240.26 346.82,250.27 348.06,262.16 349.30,272.17 350.53,278.93 351.77,283.44 353.32,285.58 356.10,288.98 358.89,286.88 361.67,287.68 364.45,284.42 367.24,285.60 370.02,284.00 372.80,282.67 375.59,280.71 378.37,286.13 381.16,282.63 383.94,281.78 386.72,284.67 389.51,283.48 392.29,285.76 395.07,283.86 397.86,283.35 400.64,285.70 403.43,284.16 406.21,283.84 408.99,285.22 411.78,284.26 414.56,285.38 417.34,283.98 420.13,285.85 422.91,283.95 425.69,287.18 428.48,286.18 431.26,286.73 434.05,285.22 436.83,285.46 439.61,286.16 442.40,286.15 445.18,284.13 447.96,288.58 450.75,288.18 453.53,284.14 456.32,287.10 459.10,286.32 461.88,288.03 464.67,289.50 467.45,287.41 470.23,287.12" fill="none" stroke="#4d5fc8" stroke-width="1.1" stroke-dasharray="2 1.2" stroke-opacity="1" stroke-linejoin="round"/>
<polyline points="339.40,303.30 340.64,295.96 341.87,288.10 343.11,281.37 344.35,276.56 345.59,274.64 346.82,279.77 348.06,285.86 349.30,290.99 350.53,294.45 351.77,296.76 353.32,294.89 356.10,294.92 358.89,297.77 361.67,296.70 364.45,297.36 367.24,295.26 370.02,293.65 372.80,293.71 375.59,289.44 378.37,294.99 381.16,294.17 383.94,293.07 386.72,295.00 389.51,295.23 392.29,296.11 395.07,293.25 397.86,295.18 400.64,293.35 403.43,295.88 406.21,291.88 408.99,294.64 411.78,294.90 414.56,295.35 417.34,292.85 420.13,294.13 422.91,294.33 425.69,294.20 428.48,292.70 431.26,294.13 434.05,293.52 436.83,294.25 439.61,294.09 442.40,296.28 445.18,295.29 447.96,294.86 450.75,296.78 453.53,295.09 456.32,295.48 459.10,294.23 461.88,295.69 464.67,297.80 467.45,296.28 470.23,297.36" fill="none" stroke="#4d5fc8" stroke-width="1.1" stroke-dasharray="2 1.2" stroke-opacity="1" stroke-linejoin="round"/>
<polyline points="339.40,301.85 340.64,286.77 341.87,272.56 343.11,260.38 344.35,251.67 345.59,248.19 346.82,257.48 348.06,268.50 349.30,277.78 350.53,284.04 351.77,288.22 353.32,289.94 356.10,291.26 358.89,291.72 361.67,290.28 364.45,290.18 367.24,290.64 370.02,288.64 372.80,287.10 375.59,286.86 378.37,288.93 381.16,289.04 383.94,287.67 386.72,288.41 389.51,289.70 392.29,289.56 395.07,289.42 397.86,289.01 400.64,290.01 403.43,290.18 406.21,289.53 408.99,289.42 411.78,289.66 414.56,289.10 417.34,289.65 420.13,290.24 422.91,289.41 425.69,289.33 428.48,289.56 431.26,289.02 434.05,290.28 436.83,289.77 439.61,289.92 442.40,290.40 445.18,291.26 447.96,291.34 450.75,290.62 453.53,290.61 456.32,291.10 459.10,291.17 461.88,291.14 464.67,291.92 467.45,292.27 470.23,292.23" fill="none" stroke="#4d5fc8" stroke-width="1.0" stroke-dasharray="2 1.2" stroke-opacity="1" stroke-linejoin="round"/>
<text x="336.8" y="306.04" font-size="7.6" text-anchor="end" stroke="#1e1e1e" stroke-width="0.45" fill="#1e1e1e" >0</text>
<text x="336.8" y="276.14" font-size="7.6" text-anchor="end" stroke="#1e1e1e" stroke-width="0.45" fill="#1e1e1e" >1000</text>
<text x="336.8" y="246.24" font-size="7.6" text-anchor="end" stroke="#1e1e1e" stroke-width="0.45" fill="#1e1e1e" >2000</text>
<text x="336.8" y="216.34" font-size="7.6" text-anchor="end" stroke="#1e1e1e" stroke-width="0.45" fill="#1e1e1e" >3000</text>
<text x="339.40" y="313.6" font-size="7.7" text-anchor="middle" stroke="#1e1e1e" stroke-width="0.45" fill="#1e1e1e" >0</text>
<text x="376.52" y="313.6" font-size="7.7" text-anchor="middle" stroke="#1e1e1e" stroke-width="0.45" fill="#1e1e1e" >120</text>
<text x="413.63" y="313.6" font-size="7.7" text-anchor="middle" stroke="#1e1e1e" stroke-width="0.45" fill="#1e1e1e" >240</text>
<text x="450.75" y="313.6" font-size="7.7" text-anchor="middle" stroke="#1e1e1e" stroke-width="0.45" fill="#1e1e1e" >360</text>
<text x="409.2" y="327.7" font-size="10.6" text-anchor="middle" stroke="#1e1e1e" stroke-width="0.15" fill="#1e1e1e" >Time (min)</text>
<text transform="translate(314.0,256.2) scale(1.0,0.89) rotate(-90)" font-size="10.0" fill="#1e1e1e" stroke="#1e1e1e" stroke-width="0.15" text-anchor="middle">Lum/OD<tspan font-size="7.3" dy="2.4">600 nm</tspan></text>
</svg>
</body></html>
